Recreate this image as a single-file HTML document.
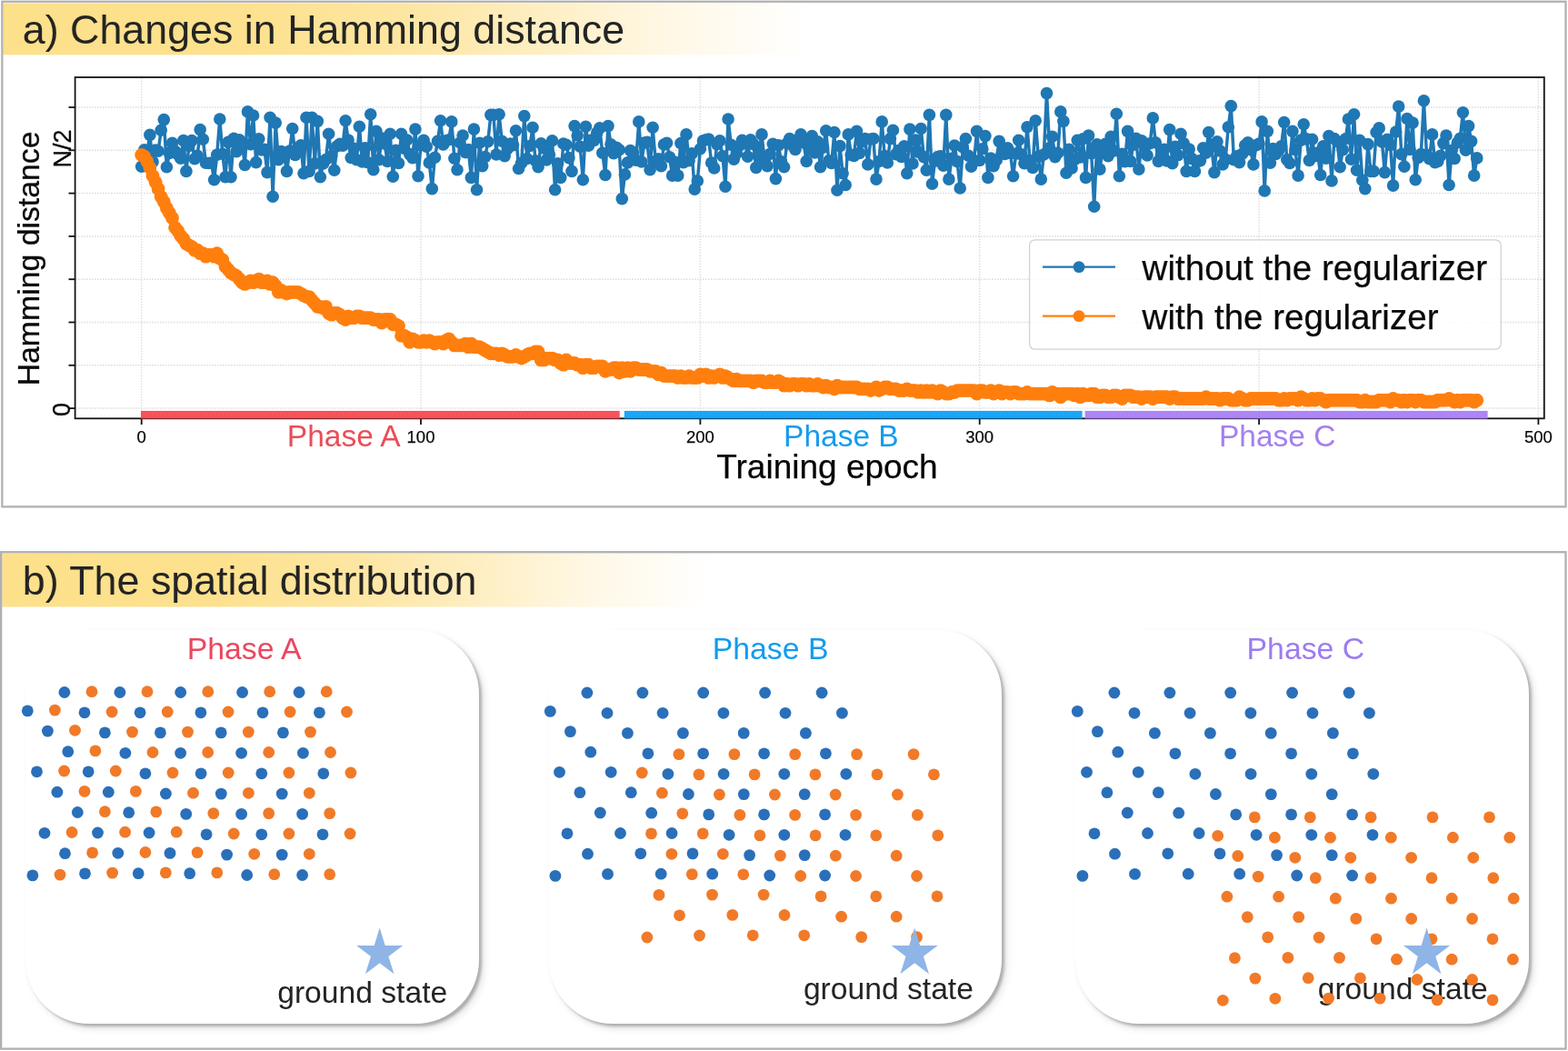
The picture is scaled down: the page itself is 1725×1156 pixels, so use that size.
<!DOCTYPE html>
<html lang="en"><head><meta charset="utf-8"><title>Hamming distance and spatial distribution</title>
<style>
html,body{margin:0;padding:0;background:#fff;}
body{width:1725px;height:1156px;position:relative;overflow:hidden;font-family:"Liberation Sans", Arial, Helvetica, sans-serif;}
.panel{position:absolute;box-sizing:border-box;background:#fff;}
#pa{left:1px;top:1px;width:1723px;height:558px;}
#pb{left:1px;top:606px;width:1723px;height:549px;}
.hdr{position:absolute;left:3.4px;height:57px;width:850px;
  font-size:44.8px;line-height:57px;color:#242424;white-space:nowrap;}
.hdr span{position:absolute;left:21.4px;top:0;}
#ha{top:3.5px;}
#hb{top:608.4px;height:59px;line-height:61px;width:735px;}
.card{position:absolute;top:692.8px;height:433.2px;width:498.8px;border-radius:70px;background:#fff;
  box-shadow:3px 3px 3px rgba(0,0,0,0.24), 5px 5px 8px rgba(0,0,0,0.12);}
</style></head>
<body>
<div class="panel" id="pa"></div>
<div class="panel" id="pb"></div>
<svg width="1725" height="1156" viewBox="0 0 1725 1156" style="position:absolute;left:0;top:0"><defs><linearGradient id="hg" x1="0" y1="0" x2="1" y2="0"><stop offset="0" stop-color="#fde08a"/><stop offset="0.30" stop-color="#fde18e"/><stop offset="0.50" stop-color="#fde6a2"/><stop offset="0.68" stop-color="#feefc4"/><stop offset="0.83" stop-color="#fff8e6"/><stop offset="1" stop-color="#ffffff"/></linearGradient></defs><rect x="3.4" y="3.5" width="885" height="56.8" fill="url(#hg)"/><rect x="2.3" y="608.4" width="780" height="59.1" fill="url(#hg)"/><g fill="none" stroke="#b1b1b1" stroke-width="2.3"><rect x="2.35" y="1.75" width="1720.15" height="555.6"/><rect x="1.15" y="607.25" width="1721.35" height="546.35" stroke="#b0b0b3"/></g></svg>
<div class="hdr" id="ha"><span>a) Changes in Hamming distance</span></div>
<div class="hdr" id="hb"><span>b) The spatial distribution</span></div>
<div class="card" style="left:28.3px"></div>
<div class="card" style="left:603.6px"></div>
<div class="card" style="left:1183.3px"></div>
<svg width="1725" height="1156" viewBox="0 0 1725 1156" style="position:absolute;left:0;top:0" font-family='"Liberation Sans", Arial, Helvetica, sans-serif'><g stroke="#dedede" stroke-width="1.5" stroke-dasharray="1.6 1.4" fill="none"><line x1="83" y1="118.0" x2="1698.5" y2="118.0"/><line x1="83" y1="165.3" x2="1698.5" y2="165.3"/><line x1="83" y1="212.6" x2="1698.5" y2="212.6"/><line x1="83" y1="259.9" x2="1698.5" y2="259.9"/><line x1="83" y1="307.2" x2="1698.5" y2="307.2"/><line x1="83" y1="354.5" x2="1698.5" y2="354.5"/><line x1="83" y1="401.8" x2="1698.5" y2="401.8"/><line x1="83" y1="449.1" x2="1698.5" y2="449.1"/><line x1="155.7" y1="85.5" x2="155.7" y2="460"/><line x1="463.0" y1="85.5" x2="463.0" y2="460"/><line x1="770.4" y1="85.5" x2="770.4" y2="460"/><line x1="1077.7" y1="85.5" x2="1077.7" y2="460"/><line x1="1385.1" y1="85.5" x2="1385.1" y2="460"/><line x1="1692.4" y1="85.5" x2="1692.4" y2="460"/></g><polyline points="155.7,183.2 158.8,164.7 161.8,167.7 164.9,148.4 168.0,177.9 171.1,165.0 174.1,166.2 177.2,143.2 180.3,131.6 183.4,183.8 186.4,168.4 189.5,157.2 192.6,166.3 195.7,169.6 198.7,174.2 201.8,154.6 204.9,188.4 207.9,160.5 211.0,154.5 214.1,174.7 217.2,171.4 220.2,142.6 223.3,153.2 226.4,179.2 229.5,179.5 232.5,179.0 235.6,197.7 238.7,170.3 241.8,131.0 244.8,169.2 247.9,194.8 251.0,156.4 254.0,194.8 257.1,152.4 260.2,166.8 263.3,153.7 266.3,157.3 269.4,181.5 272.5,122.9 275.6,158.8 278.6,127.0 281.7,178.6 284.8,152.8 287.9,165.0 290.9,164.3 294.0,189.6 297.1,129.3 300.1,216.3 303.2,135.1 306.3,175.6 309.4,166.5 312.4,169.9 315.5,188.4 318.6,166.0 321.7,141.5 324.7,170.5 327.8,164.8 330.9,159.8 334.0,190.8 337.0,129.3 340.1,188.4 343.2,129.3 346.3,179.9 349.3,133.4 352.4,194.8 355.5,179.9 358.5,175.5 361.6,147.3 364.7,171.8 367.8,187.3 370.8,160.8 373.9,158.4 377.0,160.1 380.1,132.8 383.1,154.0 386.2,173.5 389.3,163.2 392.4,175.7 395.4,139.2 398.5,178.0 401.6,162.8 404.6,178.8 407.7,125.8 410.8,186.7 413.9,144.4 416.9,175.7 420.0,152.0 423.1,157.9 426.2,177.5 429.2,147.3 432.3,194.2 435.4,165.2 438.5,179.5 441.5,147.3 444.6,163.1 447.7,154.0 450.7,169.6 453.8,173.8 456.9,142.1 460.0,193.7 463.0,159.6 466.1,154.4 469.2,161.3 472.3,179.0 475.3,207.6 478.4,173.2 481.5,155.3 484.6,132.8 487.6,158.9 490.7,154.8 493.8,153.7 496.8,133.9 499.9,174.3 503.0,186.7 506.1,157.0 509.1,149.0 512.2,167.7 515.3,164.5 518.4,195.4 521.4,142.1 524.5,208.7 527.6,157.3 530.7,182.6 533.7,172.5 536.8,155.7 539.9,126.4 542.9,126.4 546.0,170.0 549.1,125.8 552.2,155.3 555.2,171.6 558.3,163.8 561.4,158.0 564.5,159.6 567.5,143.8 570.6,185.5 573.7,179.2 576.8,127.6 579.8,174.5 582.9,160.5 586.0,140.3 589.0,176.8 592.1,183.8 595.2,157.9 598.3,163.0 601.3,175.9 604.4,170.0 607.5,154.8 610.6,208.7 613.6,179.7 616.7,195.4 619.8,158.0 622.9,159.2 625.9,173.6 629.0,188.4 632.1,138.6 635.2,149.0 638.2,161.2 641.3,197.7 644.4,139.2 647.4,160.3 650.5,154.1 653.6,154.5 656.7,146.1 659.7,140.9 662.8,168.3 665.9,192.5 669.0,138.6 672.0,158.8 675.1,168.8 678.2,162.4 681.3,164.7 684.3,218.6 687.4,191.9 690.5,178.9 693.5,165.5 696.6,168.1 699.7,176.3 702.8,133.9 705.8,178.0 708.9,157.1 712.0,156.3 715.1,186.7 718.1,140.3 721.2,177.4 724.3,174.9 727.4,182.6 730.4,159.0 733.5,157.3 736.6,172.7 739.6,193.1 742.7,178.3 745.8,193.1 748.9,157.5 751.9,178.6 755.0,147.9 758.1,176.7 761.2,168.9 764.2,208.1 767.3,198.9 770.4,163.8 773.5,154.9 776.5,153.7 779.6,153.1 782.7,179.0 785.7,185.0 788.8,158.7 791.9,154.8 795.0,171.7 798.0,205.2 801.1,131.0 804.2,159.2 807.3,175.1 810.3,168.7 813.4,160.2 816.5,154.2 819.6,156.9 822.6,172.2 825.7,153.9 828.8,158.4 831.8,184.4 834.9,167.7 838.0,147.9 841.1,175.9 844.1,182.6 847.2,169.2 850.3,158.3 853.4,196.6 856.4,159.8 859.5,177.7 862.6,183.8 865.7,157.7 868.7,152.5 871.8,159.5 874.9,164.5 877.9,153.7 881.0,147.9 884.1,156.9 887.2,177.4 890.2,162.3 893.3,149.6 896.4,168.0 899.5,155.7 902.5,183.8 905.6,162.1 908.7,143.8 911.8,176.9 914.8,179.5 917.9,145.5 921.0,209.3 924.0,160.6 927.1,190.8 930.2,203.5 933.3,147.9 936.3,170.4 939.4,171.4 942.5,144.4 945.6,168.4 948.6,155.9 951.7,152.5 954.8,180.9 957.9,153.0 960.9,152.5 964.0,197.1 967.1,177.5 970.2,133.9 973.2,171.6 976.3,179.0 979.4,152.6 982.4,143.2 985.5,169.8 988.6,165.5 991.7,172.5 994.7,160.9 997.8,190.8 1000.9,142.1 1004.0,180.0 1007.0,154.1 1010.1,167.3 1013.2,141.5 1016.3,172.6 1019.3,187.3 1022.4,126.4 1025.5,202.3 1028.5,177.2 1031.6,172.6 1034.7,171.7 1037.8,182.1 1040.8,126.4 1043.9,197.1 1047.0,174.2 1050.1,160.0 1053.1,177.6 1056.2,207.0 1059.3,161.9 1062.4,152.5 1065.4,171.2 1068.5,183.2 1071.6,177.2 1074.6,144.4 1077.7,176.4 1080.8,163.7 1083.9,149.6 1086.9,195.4 1090.0,174.1 1093.1,182.6 1096.2,176.2 1099.2,155.4 1102.3,168.0 1105.4,169.5 1108.5,162.7 1111.5,168.3 1114.6,193.7 1117.7,169.0 1120.7,154.2 1123.8,169.9 1126.9,179.8 1130.0,139.7 1133.0,176.6 1136.1,184.4 1139.2,132.8 1142.3,172.4 1145.3,197.1 1148.4,169.9 1151.5,102.6 1154.6,162.9 1157.6,150.2 1160.7,172.6 1163.8,168.3 1166.8,122.9 1169.9,133.4 1173.0,190.2 1176.1,164.3 1179.1,185.0 1182.2,175.5 1185.3,154.3 1188.4,173.0 1191.4,152.8 1194.5,195.4 1197.6,149.0 1200.7,168.8 1203.7,227.3 1206.8,158.9 1209.9,186.1 1212.9,165.5 1216.0,158.4 1219.1,171.6 1222.2,150.2 1225.2,165.9 1228.3,125.2 1231.4,193.7 1234.5,169.2 1237.5,177.8 1240.6,144.4 1243.7,177.4 1246.8,159.2 1249.8,152.3 1252.9,186.1 1256.0,154.8 1259.1,160.4 1262.1,171.0 1265.2,157.7 1268.3,129.9 1271.3,156.7 1274.4,177.4 1277.5,170.5 1280.6,164.4 1283.6,177.0 1286.7,142.6 1289.8,179.7 1292.9,161.2 1295.9,170.6 1299.0,147.3 1302.1,157.6 1305.2,188.4 1308.2,164.1 1311.3,174.6 1314.4,188.4 1317.4,177.6 1320.5,176.6 1323.6,162.8 1326.7,168.3 1329.7,145.5 1332.8,160.9 1335.9,189.6 1339.0,155.8 1342.0,165.9 1345.1,180.9 1348.2,175.4 1351.3,139.7 1354.3,116.6 1357.4,175.8 1360.5,171.9 1363.5,178.6 1366.6,169.3 1369.7,159.8 1372.8,156.7 1375.8,164.6 1378.9,180.9 1382.0,159.7 1385.1,158.0 1388.1,133.9 1391.2,209.9 1394.3,144.4 1397.4,179.2 1400.4,163.6 1403.5,169.5 1406.6,165.8 1409.6,160.8 1412.7,134.5 1415.8,175.5 1418.9,179.5 1421.9,144.4 1425.0,164.7 1428.1,193.1 1431.2,154.1 1434.2,136.8 1437.3,152.9 1440.4,176.4 1443.5,153.2 1446.5,171.8 1449.6,168.0 1452.7,192.5 1455.7,160.7 1458.8,174.2 1461.9,149.6 1465.0,198.9 1468.0,152.5 1471.1,155.8 1474.2,183.8 1477.3,164.7 1480.3,152.7 1483.4,131.0 1486.5,175.2 1489.6,125.8 1492.6,187.3 1495.7,154.2 1498.8,198.3 1501.8,207.6 1504.9,158.6 1508.0,188.4 1511.1,188.4 1514.1,145.5 1517.2,140.9 1520.3,155.9 1523.4,189.6 1526.4,153.3 1529.5,159.4 1532.6,204.1 1535.7,145.0 1538.7,117.1 1541.8,169.6 1544.9,183.2 1548.0,130.5 1551.0,164.5 1554.1,135.1 1557.2,197.7 1560.2,173.4 1563.3,169.6 1566.4,110.8 1569.5,170.3 1572.5,174.6 1575.6,147.9 1578.7,178.8 1581.8,177.4 1584.8,171.2 1587.9,157.6 1591.0,149.0 1594.1,203.5 1597.1,165.3 1600.2,174.5 1603.3,157.0 1606.3,152.3 1609.4,123.7 1612.5,165.2 1615.6,138.6 1618.6,155.4 1621.7,193.1 1624.8,173.9" fill="none" stroke="#1f77b4" stroke-width="3.5" stroke-linejoin="round"/><g fill="#1f77b4"><circle cx="155.7" cy="183.2" r="6.8"/><circle cx="158.8" cy="164.7" r="6.8"/><circle cx="161.8" cy="167.7" r="6.8"/><circle cx="164.9" cy="148.4" r="6.8"/><circle cx="168.0" cy="177.9" r="6.8"/><circle cx="171.1" cy="165.0" r="6.8"/><circle cx="174.1" cy="166.2" r="6.8"/><circle cx="177.2" cy="143.2" r="6.8"/><circle cx="180.3" cy="131.6" r="6.8"/><circle cx="183.4" cy="183.8" r="6.8"/><circle cx="186.4" cy="168.4" r="6.8"/><circle cx="189.5" cy="157.2" r="6.8"/><circle cx="192.6" cy="166.3" r="6.8"/><circle cx="195.7" cy="169.6" r="6.8"/><circle cx="198.7" cy="174.2" r="6.8"/><circle cx="201.8" cy="154.6" r="6.8"/><circle cx="204.9" cy="188.4" r="6.8"/><circle cx="207.9" cy="160.5" r="6.8"/><circle cx="211.0" cy="154.5" r="6.8"/><circle cx="214.1" cy="174.7" r="6.8"/><circle cx="217.2" cy="171.4" r="6.8"/><circle cx="220.2" cy="142.6" r="6.8"/><circle cx="223.3" cy="153.2" r="6.8"/><circle cx="226.4" cy="179.2" r="6.8"/><circle cx="229.5" cy="179.5" r="6.8"/><circle cx="232.5" cy="179.0" r="6.8"/><circle cx="235.6" cy="197.7" r="6.8"/><circle cx="238.7" cy="170.3" r="6.8"/><circle cx="241.8" cy="131.0" r="6.8"/><circle cx="244.8" cy="169.2" r="6.8"/><circle cx="247.9" cy="194.8" r="6.8"/><circle cx="251.0" cy="156.4" r="6.8"/><circle cx="254.0" cy="194.8" r="6.8"/><circle cx="257.1" cy="152.4" r="6.8"/><circle cx="260.2" cy="166.8" r="6.8"/><circle cx="263.3" cy="153.7" r="6.8"/><circle cx="266.3" cy="157.3" r="6.8"/><circle cx="269.4" cy="181.5" r="6.8"/><circle cx="272.5" cy="122.9" r="6.8"/><circle cx="275.6" cy="158.8" r="6.8"/><circle cx="278.6" cy="127.0" r="6.8"/><circle cx="281.7" cy="178.6" r="6.8"/><circle cx="284.8" cy="152.8" r="6.8"/><circle cx="287.9" cy="165.0" r="6.8"/><circle cx="290.9" cy="164.3" r="6.8"/><circle cx="294.0" cy="189.6" r="6.8"/><circle cx="297.1" cy="129.3" r="6.8"/><circle cx="300.1" cy="216.3" r="6.8"/><circle cx="303.2" cy="135.1" r="6.8"/><circle cx="306.3" cy="175.6" r="6.8"/><circle cx="309.4" cy="166.5" r="6.8"/><circle cx="312.4" cy="169.9" r="6.8"/><circle cx="315.5" cy="188.4" r="6.8"/><circle cx="318.6" cy="166.0" r="6.8"/><circle cx="321.7" cy="141.5" r="6.8"/><circle cx="324.7" cy="170.5" r="6.8"/><circle cx="327.8" cy="164.8" r="6.8"/><circle cx="330.9" cy="159.8" r="6.8"/><circle cx="334.0" cy="190.8" r="6.8"/><circle cx="337.0" cy="129.3" r="6.8"/><circle cx="340.1" cy="188.4" r="6.8"/><circle cx="343.2" cy="129.3" r="6.8"/><circle cx="346.3" cy="179.9" r="6.8"/><circle cx="349.3" cy="133.4" r="6.8"/><circle cx="352.4" cy="194.8" r="6.8"/><circle cx="355.5" cy="179.9" r="6.8"/><circle cx="358.5" cy="175.5" r="6.8"/><circle cx="361.6" cy="147.3" r="6.8"/><circle cx="364.7" cy="171.8" r="6.8"/><circle cx="367.8" cy="187.3" r="6.8"/><circle cx="370.8" cy="160.8" r="6.8"/><circle cx="373.9" cy="158.4" r="6.8"/><circle cx="377.0" cy="160.1" r="6.8"/><circle cx="380.1" cy="132.8" r="6.8"/><circle cx="383.1" cy="154.0" r="6.8"/><circle cx="386.2" cy="173.5" r="6.8"/><circle cx="389.3" cy="163.2" r="6.8"/><circle cx="392.4" cy="175.7" r="6.8"/><circle cx="395.4" cy="139.2" r="6.8"/><circle cx="398.5" cy="178.0" r="6.8"/><circle cx="401.6" cy="162.8" r="6.8"/><circle cx="404.6" cy="178.8" r="6.8"/><circle cx="407.7" cy="125.8" r="6.8"/><circle cx="410.8" cy="186.7" r="6.8"/><circle cx="413.9" cy="144.4" r="6.8"/><circle cx="416.9" cy="175.7" r="6.8"/><circle cx="420.0" cy="152.0" r="6.8"/><circle cx="423.1" cy="157.9" r="6.8"/><circle cx="426.2" cy="177.5" r="6.8"/><circle cx="429.2" cy="147.3" r="6.8"/><circle cx="432.3" cy="194.2" r="6.8"/><circle cx="435.4" cy="165.2" r="6.8"/><circle cx="438.5" cy="179.5" r="6.8"/><circle cx="441.5" cy="147.3" r="6.8"/><circle cx="444.6" cy="163.1" r="6.8"/><circle cx="447.7" cy="154.0" r="6.8"/><circle cx="450.7" cy="169.6" r="6.8"/><circle cx="453.8" cy="173.8" r="6.8"/><circle cx="456.9" cy="142.1" r="6.8"/><circle cx="460.0" cy="193.7" r="6.8"/><circle cx="463.0" cy="159.6" r="6.8"/><circle cx="466.1" cy="154.4" r="6.8"/><circle cx="469.2" cy="161.3" r="6.8"/><circle cx="472.3" cy="179.0" r="6.8"/><circle cx="475.3" cy="207.6" r="6.8"/><circle cx="478.4" cy="173.2" r="6.8"/><circle cx="481.5" cy="155.3" r="6.8"/><circle cx="484.6" cy="132.8" r="6.8"/><circle cx="487.6" cy="158.9" r="6.8"/><circle cx="490.7" cy="154.8" r="6.8"/><circle cx="493.8" cy="153.7" r="6.8"/><circle cx="496.8" cy="133.9" r="6.8"/><circle cx="499.9" cy="174.3" r="6.8"/><circle cx="503.0" cy="186.7" r="6.8"/><circle cx="506.1" cy="157.0" r="6.8"/><circle cx="509.1" cy="149.0" r="6.8"/><circle cx="512.2" cy="167.7" r="6.8"/><circle cx="515.3" cy="164.5" r="6.8"/><circle cx="518.4" cy="195.4" r="6.8"/><circle cx="521.4" cy="142.1" r="6.8"/><circle cx="524.5" cy="208.7" r="6.8"/><circle cx="527.6" cy="157.3" r="6.8"/><circle cx="530.7" cy="182.6" r="6.8"/><circle cx="533.7" cy="172.5" r="6.8"/><circle cx="536.8" cy="155.7" r="6.8"/><circle cx="539.9" cy="126.4" r="6.8"/><circle cx="542.9" cy="126.4" r="6.8"/><circle cx="546.0" cy="170.0" r="6.8"/><circle cx="549.1" cy="125.8" r="6.8"/><circle cx="552.2" cy="155.3" r="6.8"/><circle cx="555.2" cy="171.6" r="6.8"/><circle cx="558.3" cy="163.8" r="6.8"/><circle cx="561.4" cy="158.0" r="6.8"/><circle cx="564.5" cy="159.6" r="6.8"/><circle cx="567.5" cy="143.8" r="6.8"/><circle cx="570.6" cy="185.5" r="6.8"/><circle cx="573.7" cy="179.2" r="6.8"/><circle cx="576.8" cy="127.6" r="6.8"/><circle cx="579.8" cy="174.5" r="6.8"/><circle cx="582.9" cy="160.5" r="6.8"/><circle cx="586.0" cy="140.3" r="6.8"/><circle cx="589.0" cy="176.8" r="6.8"/><circle cx="592.1" cy="183.8" r="6.8"/><circle cx="595.2" cy="157.9" r="6.8"/><circle cx="598.3" cy="163.0" r="6.8"/><circle cx="601.3" cy="175.9" r="6.8"/><circle cx="604.4" cy="170.0" r="6.8"/><circle cx="607.5" cy="154.8" r="6.8"/><circle cx="610.6" cy="208.7" r="6.8"/><circle cx="613.6" cy="179.7" r="6.8"/><circle cx="616.7" cy="195.4" r="6.8"/><circle cx="619.8" cy="158.0" r="6.8"/><circle cx="622.9" cy="159.2" r="6.8"/><circle cx="625.9" cy="173.6" r="6.8"/><circle cx="629.0" cy="188.4" r="6.8"/><circle cx="632.1" cy="138.6" r="6.8"/><circle cx="635.2" cy="149.0" r="6.8"/><circle cx="638.2" cy="161.2" r="6.8"/><circle cx="641.3" cy="197.7" r="6.8"/><circle cx="644.4" cy="139.2" r="6.8"/><circle cx="647.4" cy="160.3" r="6.8"/><circle cx="650.5" cy="154.1" r="6.8"/><circle cx="653.6" cy="154.5" r="6.8"/><circle cx="656.7" cy="146.1" r="6.8"/><circle cx="659.7" cy="140.9" r="6.8"/><circle cx="662.8" cy="168.3" r="6.8"/><circle cx="665.9" cy="192.5" r="6.8"/><circle cx="669.0" cy="138.6" r="6.8"/><circle cx="672.0" cy="158.8" r="6.8"/><circle cx="675.1" cy="168.8" r="6.8"/><circle cx="678.2" cy="162.4" r="6.8"/><circle cx="681.3" cy="164.7" r="6.8"/><circle cx="684.3" cy="218.6" r="6.8"/><circle cx="687.4" cy="191.9" r="6.8"/><circle cx="690.5" cy="178.9" r="6.8"/><circle cx="693.5" cy="165.5" r="6.8"/><circle cx="696.6" cy="168.1" r="6.8"/><circle cx="699.7" cy="176.3" r="6.8"/><circle cx="702.8" cy="133.9" r="6.8"/><circle cx="705.8" cy="178.0" r="6.8"/><circle cx="708.9" cy="157.1" r="6.8"/><circle cx="712.0" cy="156.3" r="6.8"/><circle cx="715.1" cy="186.7" r="6.8"/><circle cx="718.1" cy="140.3" r="6.8"/><circle cx="721.2" cy="177.4" r="6.8"/><circle cx="724.3" cy="174.9" r="6.8"/><circle cx="727.4" cy="182.6" r="6.8"/><circle cx="730.4" cy="159.0" r="6.8"/><circle cx="733.5" cy="157.3" r="6.8"/><circle cx="736.6" cy="172.7" r="6.8"/><circle cx="739.6" cy="193.1" r="6.8"/><circle cx="742.7" cy="178.3" r="6.8"/><circle cx="745.8" cy="193.1" r="6.8"/><circle cx="748.9" cy="157.5" r="6.8"/><circle cx="751.9" cy="178.6" r="6.8"/><circle cx="755.0" cy="147.9" r="6.8"/><circle cx="758.1" cy="176.7" r="6.8"/><circle cx="761.2" cy="168.9" r="6.8"/><circle cx="764.2" cy="208.1" r="6.8"/><circle cx="767.3" cy="198.9" r="6.8"/><circle cx="770.4" cy="163.8" r="6.8"/><circle cx="773.5" cy="154.9" r="6.8"/><circle cx="776.5" cy="153.7" r="6.8"/><circle cx="779.6" cy="153.1" r="6.8"/><circle cx="782.7" cy="179.0" r="6.8"/><circle cx="785.7" cy="185.0" r="6.8"/><circle cx="788.8" cy="158.7" r="6.8"/><circle cx="791.9" cy="154.8" r="6.8"/><circle cx="795.0" cy="171.7" r="6.8"/><circle cx="798.0" cy="205.2" r="6.8"/><circle cx="801.1" cy="131.0" r="6.8"/><circle cx="804.2" cy="159.2" r="6.8"/><circle cx="807.3" cy="175.1" r="6.8"/><circle cx="810.3" cy="168.7" r="6.8"/><circle cx="813.4" cy="160.2" r="6.8"/><circle cx="816.5" cy="154.2" r="6.8"/><circle cx="819.6" cy="156.9" r="6.8"/><circle cx="822.6" cy="172.2" r="6.8"/><circle cx="825.7" cy="153.9" r="6.8"/><circle cx="828.8" cy="158.4" r="6.8"/><circle cx="831.8" cy="184.4" r="6.8"/><circle cx="834.9" cy="167.7" r="6.8"/><circle cx="838.0" cy="147.9" r="6.8"/><circle cx="841.1" cy="175.9" r="6.8"/><circle cx="844.1" cy="182.6" r="6.8"/><circle cx="847.2" cy="169.2" r="6.8"/><circle cx="850.3" cy="158.3" r="6.8"/><circle cx="853.4" cy="196.6" r="6.8"/><circle cx="856.4" cy="159.8" r="6.8"/><circle cx="859.5" cy="177.7" r="6.8"/><circle cx="862.6" cy="183.8" r="6.8"/><circle cx="865.7" cy="157.7" r="6.8"/><circle cx="868.7" cy="152.5" r="6.8"/><circle cx="871.8" cy="159.5" r="6.8"/><circle cx="874.9" cy="164.5" r="6.8"/><circle cx="877.9" cy="153.7" r="6.8"/><circle cx="881.0" cy="147.9" r="6.8"/><circle cx="884.1" cy="156.9" r="6.8"/><circle cx="887.2" cy="177.4" r="6.8"/><circle cx="890.2" cy="162.3" r="6.8"/><circle cx="893.3" cy="149.6" r="6.8"/><circle cx="896.4" cy="168.0" r="6.8"/><circle cx="899.5" cy="155.7" r="6.8"/><circle cx="902.5" cy="183.8" r="6.8"/><circle cx="905.6" cy="162.1" r="6.8"/><circle cx="908.7" cy="143.8" r="6.8"/><circle cx="911.8" cy="176.9" r="6.8"/><circle cx="914.8" cy="179.5" r="6.8"/><circle cx="917.9" cy="145.5" r="6.8"/><circle cx="921.0" cy="209.3" r="6.8"/><circle cx="924.0" cy="160.6" r="6.8"/><circle cx="927.1" cy="190.8" r="6.8"/><circle cx="930.2" cy="203.5" r="6.8"/><circle cx="933.3" cy="147.9" r="6.8"/><circle cx="936.3" cy="170.4" r="6.8"/><circle cx="939.4" cy="171.4" r="6.8"/><circle cx="942.5" cy="144.4" r="6.8"/><circle cx="945.6" cy="168.4" r="6.8"/><circle cx="948.6" cy="155.9" r="6.8"/><circle cx="951.7" cy="152.5" r="6.8"/><circle cx="954.8" cy="180.9" r="6.8"/><circle cx="957.9" cy="153.0" r="6.8"/><circle cx="960.9" cy="152.5" r="6.8"/><circle cx="964.0" cy="197.1" r="6.8"/><circle cx="967.1" cy="177.5" r="6.8"/><circle cx="970.2" cy="133.9" r="6.8"/><circle cx="973.2" cy="171.6" r="6.8"/><circle cx="976.3" cy="179.0" r="6.8"/><circle cx="979.4" cy="152.6" r="6.8"/><circle cx="982.4" cy="143.2" r="6.8"/><circle cx="985.5" cy="169.8" r="6.8"/><circle cx="988.6" cy="165.5" r="6.8"/><circle cx="991.7" cy="172.5" r="6.8"/><circle cx="994.7" cy="160.9" r="6.8"/><circle cx="997.8" cy="190.8" r="6.8"/><circle cx="1000.9" cy="142.1" r="6.8"/><circle cx="1004.0" cy="180.0" r="6.8"/><circle cx="1007.0" cy="154.1" r="6.8"/><circle cx="1010.1" cy="167.3" r="6.8"/><circle cx="1013.2" cy="141.5" r="6.8"/><circle cx="1016.3" cy="172.6" r="6.8"/><circle cx="1019.3" cy="187.3" r="6.8"/><circle cx="1022.4" cy="126.4" r="6.8"/><circle cx="1025.5" cy="202.3" r="6.8"/><circle cx="1028.5" cy="177.2" r="6.8"/><circle cx="1031.6" cy="172.6" r="6.8"/><circle cx="1034.7" cy="171.7" r="6.8"/><circle cx="1037.8" cy="182.1" r="6.8"/><circle cx="1040.8" cy="126.4" r="6.8"/><circle cx="1043.9" cy="197.1" r="6.8"/><circle cx="1047.0" cy="174.2" r="6.8"/><circle cx="1050.1" cy="160.0" r="6.8"/><circle cx="1053.1" cy="177.6" r="6.8"/><circle cx="1056.2" cy="207.0" r="6.8"/><circle cx="1059.3" cy="161.9" r="6.8"/><circle cx="1062.4" cy="152.5" r="6.8"/><circle cx="1065.4" cy="171.2" r="6.8"/><circle cx="1068.5" cy="183.2" r="6.8"/><circle cx="1071.6" cy="177.2" r="6.8"/><circle cx="1074.6" cy="144.4" r="6.8"/><circle cx="1077.7" cy="176.4" r="6.8"/><circle cx="1080.8" cy="163.7" r="6.8"/><circle cx="1083.9" cy="149.6" r="6.8"/><circle cx="1086.9" cy="195.4" r="6.8"/><circle cx="1090.0" cy="174.1" r="6.8"/><circle cx="1093.1" cy="182.6" r="6.8"/><circle cx="1096.2" cy="176.2" r="6.8"/><circle cx="1099.2" cy="155.4" r="6.8"/><circle cx="1102.3" cy="168.0" r="6.8"/><circle cx="1105.4" cy="169.5" r="6.8"/><circle cx="1108.5" cy="162.7" r="6.8"/><circle cx="1111.5" cy="168.3" r="6.8"/><circle cx="1114.6" cy="193.7" r="6.8"/><circle cx="1117.7" cy="169.0" r="6.8"/><circle cx="1120.7" cy="154.2" r="6.8"/><circle cx="1123.8" cy="169.9" r="6.8"/><circle cx="1126.9" cy="179.8" r="6.8"/><circle cx="1130.0" cy="139.7" r="6.8"/><circle cx="1133.0" cy="176.6" r="6.8"/><circle cx="1136.1" cy="184.4" r="6.8"/><circle cx="1139.2" cy="132.8" r="6.8"/><circle cx="1142.3" cy="172.4" r="6.8"/><circle cx="1145.3" cy="197.1" r="6.8"/><circle cx="1148.4" cy="169.9" r="6.8"/><circle cx="1151.5" cy="102.6" r="6.8"/><circle cx="1154.6" cy="162.9" r="6.8"/><circle cx="1157.6" cy="150.2" r="6.8"/><circle cx="1160.7" cy="172.6" r="6.8"/><circle cx="1163.8" cy="168.3" r="6.8"/><circle cx="1166.8" cy="122.9" r="6.8"/><circle cx="1169.9" cy="133.4" r="6.8"/><circle cx="1173.0" cy="190.2" r="6.8"/><circle cx="1176.1" cy="164.3" r="6.8"/><circle cx="1179.1" cy="185.0" r="6.8"/><circle cx="1182.2" cy="175.5" r="6.8"/><circle cx="1185.3" cy="154.3" r="6.8"/><circle cx="1188.4" cy="173.0" r="6.8"/><circle cx="1191.4" cy="152.8" r="6.8"/><circle cx="1194.5" cy="195.4" r="6.8"/><circle cx="1197.6" cy="149.0" r="6.8"/><circle cx="1200.7" cy="168.8" r="6.8"/><circle cx="1203.7" cy="227.3" r="6.8"/><circle cx="1206.8" cy="158.9" r="6.8"/><circle cx="1209.9" cy="186.1" r="6.8"/><circle cx="1212.9" cy="165.5" r="6.8"/><circle cx="1216.0" cy="158.4" r="6.8"/><circle cx="1219.1" cy="171.6" r="6.8"/><circle cx="1222.2" cy="150.2" r="6.8"/><circle cx="1225.2" cy="165.9" r="6.8"/><circle cx="1228.3" cy="125.2" r="6.8"/><circle cx="1231.4" cy="193.7" r="6.8"/><circle cx="1234.5" cy="169.2" r="6.8"/><circle cx="1237.5" cy="177.8" r="6.8"/><circle cx="1240.6" cy="144.4" r="6.8"/><circle cx="1243.7" cy="177.4" r="6.8"/><circle cx="1246.8" cy="159.2" r="6.8"/><circle cx="1249.8" cy="152.3" r="6.8"/><circle cx="1252.9" cy="186.1" r="6.8"/><circle cx="1256.0" cy="154.8" r="6.8"/><circle cx="1259.1" cy="160.4" r="6.8"/><circle cx="1262.1" cy="171.0" r="6.8"/><circle cx="1265.2" cy="157.7" r="6.8"/><circle cx="1268.3" cy="129.9" r="6.8"/><circle cx="1271.3" cy="156.7" r="6.8"/><circle cx="1274.4" cy="177.4" r="6.8"/><circle cx="1277.5" cy="170.5" r="6.8"/><circle cx="1280.6" cy="164.4" r="6.8"/><circle cx="1283.6" cy="177.0" r="6.8"/><circle cx="1286.7" cy="142.6" r="6.8"/><circle cx="1289.8" cy="179.7" r="6.8"/><circle cx="1292.9" cy="161.2" r="6.8"/><circle cx="1295.9" cy="170.6" r="6.8"/><circle cx="1299.0" cy="147.3" r="6.8"/><circle cx="1302.1" cy="157.6" r="6.8"/><circle cx="1305.2" cy="188.4" r="6.8"/><circle cx="1308.2" cy="164.1" r="6.8"/><circle cx="1311.3" cy="174.6" r="6.8"/><circle cx="1314.4" cy="188.4" r="6.8"/><circle cx="1317.4" cy="177.6" r="6.8"/><circle cx="1320.5" cy="176.6" r="6.8"/><circle cx="1323.6" cy="162.8" r="6.8"/><circle cx="1326.7" cy="168.3" r="6.8"/><circle cx="1329.7" cy="145.5" r="6.8"/><circle cx="1332.8" cy="160.9" r="6.8"/><circle cx="1335.9" cy="189.6" r="6.8"/><circle cx="1339.0" cy="155.8" r="6.8"/><circle cx="1342.0" cy="165.9" r="6.8"/><circle cx="1345.1" cy="180.9" r="6.8"/><circle cx="1348.2" cy="175.4" r="6.8"/><circle cx="1351.3" cy="139.7" r="6.8"/><circle cx="1354.3" cy="116.6" r="6.8"/><circle cx="1357.4" cy="175.8" r="6.8"/><circle cx="1360.5" cy="171.9" r="6.8"/><circle cx="1363.5" cy="178.6" r="6.8"/><circle cx="1366.6" cy="169.3" r="6.8"/><circle cx="1369.7" cy="159.8" r="6.8"/><circle cx="1372.8" cy="156.7" r="6.8"/><circle cx="1375.8" cy="164.6" r="6.8"/><circle cx="1378.9" cy="180.9" r="6.8"/><circle cx="1382.0" cy="159.7" r="6.8"/><circle cx="1385.1" cy="158.0" r="6.8"/><circle cx="1388.1" cy="133.9" r="6.8"/><circle cx="1391.2" cy="209.9" r="6.8"/><circle cx="1394.3" cy="144.4" r="6.8"/><circle cx="1397.4" cy="179.2" r="6.8"/><circle cx="1400.4" cy="163.6" r="6.8"/><circle cx="1403.5" cy="169.5" r="6.8"/><circle cx="1406.6" cy="165.8" r="6.8"/><circle cx="1409.6" cy="160.8" r="6.8"/><circle cx="1412.7" cy="134.5" r="6.8"/><circle cx="1415.8" cy="175.5" r="6.8"/><circle cx="1418.9" cy="179.5" r="6.8"/><circle cx="1421.9" cy="144.4" r="6.8"/><circle cx="1425.0" cy="164.7" r="6.8"/><circle cx="1428.1" cy="193.1" r="6.8"/><circle cx="1431.2" cy="154.1" r="6.8"/><circle cx="1434.2" cy="136.8" r="6.8"/><circle cx="1437.3" cy="152.9" r="6.8"/><circle cx="1440.4" cy="176.4" r="6.8"/><circle cx="1443.5" cy="153.2" r="6.8"/><circle cx="1446.5" cy="171.8" r="6.8"/><circle cx="1449.6" cy="168.0" r="6.8"/><circle cx="1452.7" cy="192.5" r="6.8"/><circle cx="1455.7" cy="160.7" r="6.8"/><circle cx="1458.8" cy="174.2" r="6.8"/><circle cx="1461.9" cy="149.6" r="6.8"/><circle cx="1465.0" cy="198.9" r="6.8"/><circle cx="1468.0" cy="152.5" r="6.8"/><circle cx="1471.1" cy="155.8" r="6.8"/><circle cx="1474.2" cy="183.8" r="6.8"/><circle cx="1477.3" cy="164.7" r="6.8"/><circle cx="1480.3" cy="152.7" r="6.8"/><circle cx="1483.4" cy="131.0" r="6.8"/><circle cx="1486.5" cy="175.2" r="6.8"/><circle cx="1489.6" cy="125.8" r="6.8"/><circle cx="1492.6" cy="187.3" r="6.8"/><circle cx="1495.7" cy="154.2" r="6.8"/><circle cx="1498.8" cy="198.3" r="6.8"/><circle cx="1501.8" cy="207.6" r="6.8"/><circle cx="1504.9" cy="158.6" r="6.8"/><circle cx="1508.0" cy="188.4" r="6.8"/><circle cx="1511.1" cy="188.4" r="6.8"/><circle cx="1514.1" cy="145.5" r="6.8"/><circle cx="1517.2" cy="140.9" r="6.8"/><circle cx="1520.3" cy="155.9" r="6.8"/><circle cx="1523.4" cy="189.6" r="6.8"/><circle cx="1526.4" cy="153.3" r="6.8"/><circle cx="1529.5" cy="159.4" r="6.8"/><circle cx="1532.6" cy="204.1" r="6.8"/><circle cx="1535.7" cy="145.0" r="6.8"/><circle cx="1538.7" cy="117.1" r="6.8"/><circle cx="1541.8" cy="169.6" r="6.8"/><circle cx="1544.9" cy="183.2" r="6.8"/><circle cx="1548.0" cy="130.5" r="6.8"/><circle cx="1551.0" cy="164.5" r="6.8"/><circle cx="1554.1" cy="135.1" r="6.8"/><circle cx="1557.2" cy="197.7" r="6.8"/><circle cx="1560.2" cy="173.4" r="6.8"/><circle cx="1563.3" cy="169.6" r="6.8"/><circle cx="1566.4" cy="110.8" r="6.8"/><circle cx="1569.5" cy="170.3" r="6.8"/><circle cx="1572.5" cy="174.6" r="6.8"/><circle cx="1575.6" cy="147.9" r="6.8"/><circle cx="1578.7" cy="178.8" r="6.8"/><circle cx="1581.8" cy="177.4" r="6.8"/><circle cx="1584.8" cy="171.2" r="6.8"/><circle cx="1587.9" cy="157.6" r="6.8"/><circle cx="1591.0" cy="149.0" r="6.8"/><circle cx="1594.1" cy="203.5" r="6.8"/><circle cx="1597.1" cy="165.3" r="6.8"/><circle cx="1600.2" cy="174.5" r="6.8"/><circle cx="1603.3" cy="157.0" r="6.8"/><circle cx="1606.3" cy="152.3" r="6.8"/><circle cx="1609.4" cy="123.7" r="6.8"/><circle cx="1612.5" cy="165.2" r="6.8"/><circle cx="1615.6" cy="138.6" r="6.8"/><circle cx="1618.6" cy="155.4" r="6.8"/><circle cx="1621.7" cy="193.1" r="6.8"/><circle cx="1624.8" cy="173.9" r="6.8"/></g><polyline points="155.7,170.4 158.8,172.2 161.8,177.5 164.9,184.6 168.0,193.5 171.1,200.6 174.1,207.7 177.2,216.6 180.3,221.9 183.4,229.0 186.4,234.3 189.5,239.7 192.6,250.3 195.7,253.9 198.7,259.2 201.8,262.7 204.9,268.1 207.9,269.8 211.0,271.6 214.1,275.2 217.2,275.2 220.2,278.7 223.3,278.7 226.4,282.2 229.5,280.5 232.5,280.5 235.6,282.2 238.7,278.7 241.8,284.0 244.8,285.8 247.9,292.9 251.0,296.5 254.0,300.0 257.1,301.8 260.2,303.6 263.3,307.1 266.3,310.7 269.4,312.4 272.5,310.7 275.6,308.9 278.6,310.7 281.7,308.9 284.8,307.1 287.9,310.7 290.9,310.7 294.0,308.9 297.1,312.4 300.1,310.7 303.2,314.2 306.3,321.3 309.4,319.5 312.4,321.3 315.5,323.1 318.6,321.3 321.7,321.3 324.7,321.3 327.8,321.3 330.9,323.1 334.0,324.9 337.0,326.6 340.1,326.6 343.2,330.2 346.3,333.7 349.3,337.3 352.4,337.3 355.5,339.1 358.5,337.3 361.6,344.4 364.7,346.2 367.8,344.4 370.8,344.4 373.9,346.2 377.0,349.7 380.1,351.5 383.1,347.9 386.2,349.7 389.3,349.7 392.4,347.9 395.4,347.9 398.5,349.7 401.6,349.7 404.6,349.7 407.7,349.7 410.8,351.5 413.9,351.5 416.9,351.5 420.0,355.0 423.1,351.5 426.2,351.5 429.2,351.5 432.3,356.8 435.4,356.8 438.5,358.6 441.5,369.2 444.6,369.2 447.7,371.0 450.7,376.3 453.8,372.8 456.9,374.6 460.0,376.3 463.0,376.3 466.1,374.6 469.2,376.3 472.3,374.6 475.3,376.3 478.4,378.1 481.5,376.3 484.6,376.3 487.6,378.1 490.7,374.6 493.8,372.8 496.8,376.3 499.9,379.9 503.0,379.9 506.1,379.9 509.1,379.9 512.2,378.1 515.3,381.7 518.4,378.1 521.4,381.7 524.5,381.7 527.6,381.7 530.7,383.4 533.7,385.2 536.8,387.0 539.9,388.8 542.9,388.8 546.0,388.8 549.1,390.5 552.2,388.8 555.2,390.5 558.3,392.3 561.4,392.3 564.5,392.3 567.5,390.5 570.6,392.3 573.7,394.1 576.8,392.3 579.8,390.5 582.9,388.8 586.0,388.8 589.0,387.0 592.1,387.0 595.2,395.9 598.3,395.9 601.3,394.1 604.4,394.1 607.5,394.1 610.6,395.9 613.6,395.9 616.7,399.4 619.8,401.2 622.9,395.9 625.9,399.4 629.0,399.4 632.1,399.4 635.2,401.2 638.2,401.2 641.3,404.7 644.4,401.2 647.4,401.2 650.5,404.7 653.6,404.7 656.7,403.0 659.7,403.0 662.8,403.0 665.9,408.3 669.0,406.5 672.0,406.5 675.1,404.7 678.2,404.7 681.3,410.1 684.3,404.7 687.4,408.3 690.5,404.7 693.5,408.3 696.6,404.7 699.7,404.7 702.8,406.5 705.8,406.5 708.9,406.5 712.0,406.5 715.1,408.3 718.1,408.3 721.2,408.3 724.3,411.8 727.4,410.1 730.4,413.6 733.5,413.6 736.6,413.6 739.6,413.6 742.7,413.6 745.8,415.4 748.9,413.6 751.9,415.4 755.0,415.4 758.1,413.6 761.2,415.4 764.2,415.4 767.3,415.4 770.4,411.8 773.5,413.6 776.5,411.8 779.6,415.4 782.7,413.6 785.7,415.4 788.8,413.6 791.9,411.8 795.0,415.4 798.0,413.6 801.1,415.4 804.2,417.2 807.3,418.9 810.3,417.2 813.4,418.9 816.5,418.9 819.6,418.9 822.6,418.9 825.7,418.9 828.8,420.7 831.8,418.9 834.9,418.9 838.0,418.9 841.1,420.7 844.1,420.7 847.2,418.9 850.3,420.7 853.4,420.7 856.4,418.9 859.5,420.7 862.6,424.2 865.7,422.5 868.7,424.2 871.8,422.5 874.9,422.5 877.9,424.2 881.0,422.5 884.1,422.5 887.2,424.2 890.2,422.5 893.3,424.2 896.4,424.2 899.5,422.5 902.5,424.2 905.6,426.0 908.7,424.2 911.8,426.0 914.8,426.0 917.9,427.8 921.0,424.2 924.0,426.0 927.1,426.0 930.2,426.0 933.3,426.0 936.3,426.0 939.4,426.0 942.5,426.0 945.6,427.8 948.6,427.8 951.7,427.8 954.8,427.8 957.9,429.6 960.9,427.8 964.0,426.0 967.1,429.6 970.2,427.8 973.2,426.0 976.3,426.0 979.4,427.8 982.4,427.8 985.5,427.8 988.6,429.6 991.7,429.6 994.7,429.6 997.8,427.8 1000.9,429.6 1004.0,429.6 1007.0,429.6 1010.1,431.4 1013.2,429.6 1016.3,431.4 1019.3,429.6 1022.4,431.4 1025.5,429.6 1028.5,431.4 1031.6,433.1 1034.7,429.6 1037.8,431.4 1040.8,433.1 1043.9,433.1 1047.0,431.4 1050.1,431.4 1053.1,429.6 1056.2,429.6 1059.3,429.6 1062.4,429.6 1065.4,429.6 1068.5,429.6 1071.6,429.6 1074.6,433.1 1077.7,429.6 1080.8,429.6 1083.9,431.4 1086.9,431.4 1090.0,429.6 1093.1,433.1 1096.2,431.4 1099.2,429.6 1102.3,433.1 1105.4,431.4 1108.5,431.4 1111.5,433.1 1114.6,431.4 1117.7,431.4 1120.7,433.1 1123.8,433.1 1126.9,433.1 1130.0,431.4 1133.0,433.1 1136.1,433.1 1139.2,433.1 1142.3,433.1 1145.3,433.1 1148.4,433.1 1151.5,433.1 1154.6,434.9 1157.6,431.4 1160.7,433.1 1163.8,433.1 1166.8,436.7 1169.9,433.1 1173.0,433.1 1176.1,433.1 1179.1,433.1 1182.2,434.9 1185.3,433.1 1188.4,436.7 1191.4,433.1 1194.5,434.9 1197.6,434.9 1200.7,433.1 1203.7,433.1 1206.8,436.7 1209.9,436.7 1212.9,434.9 1216.0,434.9 1219.1,436.7 1222.2,436.7 1225.2,434.9 1228.3,434.9 1231.4,436.7 1234.5,438.5 1237.5,434.9 1240.6,434.9 1243.7,434.9 1246.8,436.7 1249.8,436.7 1252.9,436.7 1256.0,438.5 1259.1,436.7 1262.1,436.7 1265.2,436.7 1268.3,438.5 1271.3,436.7 1274.4,436.7 1277.5,436.7 1280.6,436.7 1283.6,436.7 1286.7,438.5 1289.8,436.7 1292.9,436.7 1295.9,438.5 1299.0,438.5 1302.1,438.5 1305.2,438.5 1308.2,438.5 1311.3,438.5 1314.4,438.5 1317.4,438.5 1320.5,438.5 1323.6,438.5 1326.7,436.7 1329.7,438.5 1332.8,438.5 1335.9,438.5 1339.0,438.5 1342.0,440.2 1345.1,438.5 1348.2,438.5 1351.3,438.5 1354.3,440.2 1357.4,440.2 1360.5,440.2 1363.5,436.7 1366.6,438.5 1369.7,440.2 1372.8,440.2 1375.8,438.5 1378.9,438.5 1382.0,438.5 1385.1,438.5 1388.1,438.5 1391.2,438.5 1394.3,438.5 1397.4,438.5 1400.4,438.5 1403.5,438.5 1406.6,440.2 1409.6,440.2 1412.7,438.5 1415.8,440.2 1418.9,438.5 1421.9,438.5 1425.0,438.5 1428.1,440.2 1431.2,436.7 1434.2,438.5 1437.3,440.2 1440.4,440.2 1443.5,438.5 1446.5,440.2 1449.6,438.5 1452.7,438.5 1455.7,440.2 1458.8,442.0 1461.9,440.2 1465.0,440.2 1468.0,440.2 1471.1,440.2 1474.2,440.2 1477.3,440.2 1480.3,440.2 1483.4,440.2 1486.5,440.2 1489.6,440.2 1492.6,440.2 1495.7,442.0 1498.8,442.0 1501.8,440.2 1504.9,442.0 1508.0,442.0 1511.1,442.0 1514.1,442.0 1517.2,440.2 1520.3,440.2 1523.4,440.2 1526.4,440.2 1529.5,442.0 1532.6,438.5 1535.7,440.2 1538.7,440.2 1541.8,442.0 1544.9,440.2 1548.0,442.0 1551.0,440.2 1554.1,440.2 1557.2,442.0 1560.2,440.2 1563.3,440.2 1566.4,442.0 1569.5,442.0 1572.5,442.0 1575.6,442.0 1578.7,442.0 1581.8,440.2 1584.8,440.2 1587.9,440.2 1591.0,440.2 1594.1,438.5 1597.1,440.2 1600.2,442.0 1603.3,440.2 1606.3,442.0 1609.4,440.2 1612.5,440.2 1615.6,440.2 1618.6,440.2 1621.7,442.0 1624.8,440.2" fill="none" stroke="#ff7f0e" stroke-width="3.1" stroke-linejoin="round"/><g fill="#ff7f0e"><circle cx="155.7" cy="170.4" r="7.4"/><circle cx="158.8" cy="172.2" r="7.4"/><circle cx="161.8" cy="177.5" r="7.4"/><circle cx="164.9" cy="184.6" r="7.4"/><circle cx="168.0" cy="193.5" r="7.4"/><circle cx="171.1" cy="200.6" r="7.4"/><circle cx="174.1" cy="207.7" r="7.4"/><circle cx="177.2" cy="216.6" r="7.4"/><circle cx="180.3" cy="221.9" r="7.4"/><circle cx="183.4" cy="229.0" r="7.4"/><circle cx="186.4" cy="234.3" r="7.4"/><circle cx="189.5" cy="239.7" r="7.4"/><circle cx="192.6" cy="250.3" r="7.4"/><circle cx="195.7" cy="253.9" r="7.4"/><circle cx="198.7" cy="259.2" r="7.4"/><circle cx="201.8" cy="262.7" r="7.4"/><circle cx="204.9" cy="268.1" r="7.4"/><circle cx="207.9" cy="269.8" r="7.4"/><circle cx="211.0" cy="271.6" r="7.4"/><circle cx="214.1" cy="275.2" r="7.4"/><circle cx="217.2" cy="275.2" r="7.4"/><circle cx="220.2" cy="278.7" r="7.4"/><circle cx="223.3" cy="278.7" r="7.4"/><circle cx="226.4" cy="282.2" r="7.4"/><circle cx="229.5" cy="280.5" r="7.4"/><circle cx="232.5" cy="280.5" r="7.4"/><circle cx="235.6" cy="282.2" r="7.4"/><circle cx="238.7" cy="278.7" r="7.4"/><circle cx="241.8" cy="284.0" r="7.4"/><circle cx="244.8" cy="285.8" r="7.4"/><circle cx="247.9" cy="292.9" r="7.4"/><circle cx="251.0" cy="296.5" r="7.4"/><circle cx="254.0" cy="300.0" r="7.4"/><circle cx="257.1" cy="301.8" r="7.4"/><circle cx="260.2" cy="303.6" r="7.4"/><circle cx="263.3" cy="307.1" r="7.4"/><circle cx="266.3" cy="310.7" r="7.4"/><circle cx="269.4" cy="312.4" r="7.4"/><circle cx="272.5" cy="310.7" r="7.4"/><circle cx="275.6" cy="308.9" r="7.4"/><circle cx="278.6" cy="310.7" r="7.4"/><circle cx="281.7" cy="308.9" r="7.4"/><circle cx="284.8" cy="307.1" r="7.4"/><circle cx="287.9" cy="310.7" r="7.4"/><circle cx="290.9" cy="310.7" r="7.4"/><circle cx="294.0" cy="308.9" r="7.4"/><circle cx="297.1" cy="312.4" r="7.4"/><circle cx="300.1" cy="310.7" r="7.4"/><circle cx="303.2" cy="314.2" r="7.4"/><circle cx="306.3" cy="321.3" r="7.4"/><circle cx="309.4" cy="319.5" r="7.4"/><circle cx="312.4" cy="321.3" r="7.4"/><circle cx="315.5" cy="323.1" r="7.4"/><circle cx="318.6" cy="321.3" r="7.4"/><circle cx="321.7" cy="321.3" r="7.4"/><circle cx="324.7" cy="321.3" r="7.4"/><circle cx="327.8" cy="321.3" r="7.4"/><circle cx="330.9" cy="323.1" r="7.4"/><circle cx="334.0" cy="324.9" r="7.4"/><circle cx="337.0" cy="326.6" r="7.4"/><circle cx="340.1" cy="326.6" r="7.4"/><circle cx="343.2" cy="330.2" r="7.4"/><circle cx="346.3" cy="333.7" r="7.4"/><circle cx="349.3" cy="337.3" r="7.4"/><circle cx="352.4" cy="337.3" r="7.4"/><circle cx="355.5" cy="339.1" r="7.4"/><circle cx="358.5" cy="337.3" r="7.4"/><circle cx="361.6" cy="344.4" r="7.4"/><circle cx="364.7" cy="346.2" r="7.4"/><circle cx="367.8" cy="344.4" r="7.4"/><circle cx="370.8" cy="344.4" r="7.4"/><circle cx="373.9" cy="346.2" r="7.4"/><circle cx="377.0" cy="349.7" r="7.4"/><circle cx="380.1" cy="351.5" r="7.4"/><circle cx="383.1" cy="347.9" r="7.4"/><circle cx="386.2" cy="349.7" r="7.4"/><circle cx="389.3" cy="349.7" r="7.4"/><circle cx="392.4" cy="347.9" r="7.4"/><circle cx="395.4" cy="347.9" r="7.4"/><circle cx="398.5" cy="349.7" r="7.4"/><circle cx="401.6" cy="349.7" r="7.4"/><circle cx="404.6" cy="349.7" r="7.4"/><circle cx="407.7" cy="349.7" r="7.4"/><circle cx="410.8" cy="351.5" r="7.4"/><circle cx="413.9" cy="351.5" r="7.4"/><circle cx="416.9" cy="351.5" r="7.4"/><circle cx="420.0" cy="355.0" r="7.4"/><circle cx="423.1" cy="351.5" r="7.4"/><circle cx="426.2" cy="351.5" r="7.4"/><circle cx="429.2" cy="351.5" r="7.4"/><circle cx="432.3" cy="356.8" r="7.4"/><circle cx="435.4" cy="356.8" r="7.4"/><circle cx="438.5" cy="358.6" r="7.4"/><circle cx="441.5" cy="369.2" r="7.4"/><circle cx="444.6" cy="369.2" r="7.4"/><circle cx="447.7" cy="371.0" r="7.4"/><circle cx="450.7" cy="376.3" r="7.4"/><circle cx="453.8" cy="372.8" r="7.4"/><circle cx="456.9" cy="374.6" r="7.4"/><circle cx="460.0" cy="376.3" r="7.4"/><circle cx="463.0" cy="376.3" r="7.4"/><circle cx="466.1" cy="374.6" r="7.4"/><circle cx="469.2" cy="376.3" r="7.4"/><circle cx="472.3" cy="374.6" r="7.4"/><circle cx="475.3" cy="376.3" r="7.4"/><circle cx="478.4" cy="378.1" r="7.4"/><circle cx="481.5" cy="376.3" r="7.4"/><circle cx="484.6" cy="376.3" r="7.4"/><circle cx="487.6" cy="378.1" r="7.4"/><circle cx="490.7" cy="374.6" r="7.4"/><circle cx="493.8" cy="372.8" r="7.4"/><circle cx="496.8" cy="376.3" r="7.4"/><circle cx="499.9" cy="379.9" r="7.4"/><circle cx="503.0" cy="379.9" r="7.4"/><circle cx="506.1" cy="379.9" r="7.4"/><circle cx="509.1" cy="379.9" r="7.4"/><circle cx="512.2" cy="378.1" r="7.4"/><circle cx="515.3" cy="381.7" r="7.4"/><circle cx="518.4" cy="378.1" r="7.4"/><circle cx="521.4" cy="381.7" r="7.4"/><circle cx="524.5" cy="381.7" r="7.4"/><circle cx="527.6" cy="381.7" r="7.4"/><circle cx="530.7" cy="383.4" r="7.4"/><circle cx="533.7" cy="385.2" r="7.4"/><circle cx="536.8" cy="387.0" r="7.4"/><circle cx="539.9" cy="388.8" r="7.4"/><circle cx="542.9" cy="388.8" r="7.4"/><circle cx="546.0" cy="388.8" r="7.4"/><circle cx="549.1" cy="390.5" r="7.4"/><circle cx="552.2" cy="388.8" r="7.4"/><circle cx="555.2" cy="390.5" r="7.4"/><circle cx="558.3" cy="392.3" r="7.4"/><circle cx="561.4" cy="392.3" r="7.4"/><circle cx="564.5" cy="392.3" r="7.4"/><circle cx="567.5" cy="390.5" r="7.4"/><circle cx="570.6" cy="392.3" r="7.4"/><circle cx="573.7" cy="394.1" r="7.4"/><circle cx="576.8" cy="392.3" r="7.4"/><circle cx="579.8" cy="390.5" r="7.4"/><circle cx="582.9" cy="388.8" r="7.4"/><circle cx="586.0" cy="388.8" r="7.4"/><circle cx="589.0" cy="387.0" r="7.4"/><circle cx="592.1" cy="387.0" r="7.4"/><circle cx="595.2" cy="395.9" r="7.4"/><circle cx="598.3" cy="395.9" r="7.4"/><circle cx="601.3" cy="394.1" r="7.4"/><circle cx="604.4" cy="394.1" r="7.4"/><circle cx="607.5" cy="394.1" r="7.4"/><circle cx="610.6" cy="395.9" r="7.4"/><circle cx="613.6" cy="395.9" r="7.4"/><circle cx="616.7" cy="399.4" r="7.4"/><circle cx="619.8" cy="401.2" r="7.4"/><circle cx="622.9" cy="395.9" r="7.4"/><circle cx="625.9" cy="399.4" r="7.4"/><circle cx="629.0" cy="399.4" r="7.4"/><circle cx="632.1" cy="399.4" r="7.4"/><circle cx="635.2" cy="401.2" r="7.4"/><circle cx="638.2" cy="401.2" r="7.4"/><circle cx="641.3" cy="404.7" r="7.4"/><circle cx="644.4" cy="401.2" r="7.4"/><circle cx="647.4" cy="401.2" r="7.4"/><circle cx="650.5" cy="404.7" r="7.4"/><circle cx="653.6" cy="404.7" r="7.4"/><circle cx="656.7" cy="403.0" r="7.4"/><circle cx="659.7" cy="403.0" r="7.4"/><circle cx="662.8" cy="403.0" r="7.4"/><circle cx="665.9" cy="408.3" r="7.4"/><circle cx="669.0" cy="406.5" r="7.4"/><circle cx="672.0" cy="406.5" r="7.4"/><circle cx="675.1" cy="404.7" r="7.4"/><circle cx="678.2" cy="404.7" r="7.4"/><circle cx="681.3" cy="410.1" r="7.4"/><circle cx="684.3" cy="404.7" r="7.4"/><circle cx="687.4" cy="408.3" r="7.4"/><circle cx="690.5" cy="404.7" r="7.4"/><circle cx="693.5" cy="408.3" r="7.4"/><circle cx="696.6" cy="404.7" r="7.4"/><circle cx="699.7" cy="404.7" r="7.4"/><circle cx="702.8" cy="406.5" r="7.4"/><circle cx="705.8" cy="406.5" r="7.4"/><circle cx="708.9" cy="406.5" r="7.4"/><circle cx="712.0" cy="406.5" r="7.4"/><circle cx="715.1" cy="408.3" r="7.4"/><circle cx="718.1" cy="408.3" r="7.4"/><circle cx="721.2" cy="408.3" r="7.4"/><circle cx="724.3" cy="411.8" r="7.4"/><circle cx="727.4" cy="410.1" r="7.4"/><circle cx="730.4" cy="413.6" r="7.4"/><circle cx="733.5" cy="413.6" r="7.4"/><circle cx="736.6" cy="413.6" r="7.4"/><circle cx="739.6" cy="413.6" r="7.4"/><circle cx="742.7" cy="413.6" r="7.4"/><circle cx="745.8" cy="415.4" r="7.4"/><circle cx="748.9" cy="413.6" r="7.4"/><circle cx="751.9" cy="415.4" r="7.4"/><circle cx="755.0" cy="415.4" r="7.4"/><circle cx="758.1" cy="413.6" r="7.4"/><circle cx="761.2" cy="415.4" r="7.4"/><circle cx="764.2" cy="415.4" r="7.4"/><circle cx="767.3" cy="415.4" r="7.4"/><circle cx="770.4" cy="411.8" r="7.4"/><circle cx="773.5" cy="413.6" r="7.4"/><circle cx="776.5" cy="411.8" r="7.4"/><circle cx="779.6" cy="415.4" r="7.4"/><circle cx="782.7" cy="413.6" r="7.4"/><circle cx="785.7" cy="415.4" r="7.4"/><circle cx="788.8" cy="413.6" r="7.4"/><circle cx="791.9" cy="411.8" r="7.4"/><circle cx="795.0" cy="415.4" r="7.4"/><circle cx="798.0" cy="413.6" r="7.4"/><circle cx="801.1" cy="415.4" r="7.4"/><circle cx="804.2" cy="417.2" r="7.4"/><circle cx="807.3" cy="418.9" r="7.4"/><circle cx="810.3" cy="417.2" r="7.4"/><circle cx="813.4" cy="418.9" r="7.4"/><circle cx="816.5" cy="418.9" r="7.4"/><circle cx="819.6" cy="418.9" r="7.4"/><circle cx="822.6" cy="418.9" r="7.4"/><circle cx="825.7" cy="418.9" r="7.4"/><circle cx="828.8" cy="420.7" r="7.4"/><circle cx="831.8" cy="418.9" r="7.4"/><circle cx="834.9" cy="418.9" r="7.4"/><circle cx="838.0" cy="418.9" r="7.4"/><circle cx="841.1" cy="420.7" r="7.4"/><circle cx="844.1" cy="420.7" r="7.4"/><circle cx="847.2" cy="418.9" r="7.4"/><circle cx="850.3" cy="420.7" r="7.4"/><circle cx="853.4" cy="420.7" r="7.4"/><circle cx="856.4" cy="418.9" r="7.4"/><circle cx="859.5" cy="420.7" r="7.4"/><circle cx="862.6" cy="424.2" r="7.4"/><circle cx="865.7" cy="422.5" r="7.4"/><circle cx="868.7" cy="424.2" r="7.4"/><circle cx="871.8" cy="422.5" r="7.4"/><circle cx="874.9" cy="422.5" r="7.4"/><circle cx="877.9" cy="424.2" r="7.4"/><circle cx="881.0" cy="422.5" r="7.4"/><circle cx="884.1" cy="422.5" r="7.4"/><circle cx="887.2" cy="424.2" r="7.4"/><circle cx="890.2" cy="422.5" r="7.4"/><circle cx="893.3" cy="424.2" r="7.4"/><circle cx="896.4" cy="424.2" r="7.4"/><circle cx="899.5" cy="422.5" r="7.4"/><circle cx="902.5" cy="424.2" r="7.4"/><circle cx="905.6" cy="426.0" r="7.4"/><circle cx="908.7" cy="424.2" r="7.4"/><circle cx="911.8" cy="426.0" r="7.4"/><circle cx="914.8" cy="426.0" r="7.4"/><circle cx="917.9" cy="427.8" r="7.4"/><circle cx="921.0" cy="424.2" r="7.4"/><circle cx="924.0" cy="426.0" r="7.4"/><circle cx="927.1" cy="426.0" r="7.4"/><circle cx="930.2" cy="426.0" r="7.4"/><circle cx="933.3" cy="426.0" r="7.4"/><circle cx="936.3" cy="426.0" r="7.4"/><circle cx="939.4" cy="426.0" r="7.4"/><circle cx="942.5" cy="426.0" r="7.4"/><circle cx="945.6" cy="427.8" r="7.4"/><circle cx="948.6" cy="427.8" r="7.4"/><circle cx="951.7" cy="427.8" r="7.4"/><circle cx="954.8" cy="427.8" r="7.4"/><circle cx="957.9" cy="429.6" r="7.4"/><circle cx="960.9" cy="427.8" r="7.4"/><circle cx="964.0" cy="426.0" r="7.4"/><circle cx="967.1" cy="429.6" r="7.4"/><circle cx="970.2" cy="427.8" r="7.4"/><circle cx="973.2" cy="426.0" r="7.4"/><circle cx="976.3" cy="426.0" r="7.4"/><circle cx="979.4" cy="427.8" r="7.4"/><circle cx="982.4" cy="427.8" r="7.4"/><circle cx="985.5" cy="427.8" r="7.4"/><circle cx="988.6" cy="429.6" r="7.4"/><circle cx="991.7" cy="429.6" r="7.4"/><circle cx="994.7" cy="429.6" r="7.4"/><circle cx="997.8" cy="427.8" r="7.4"/><circle cx="1000.9" cy="429.6" r="7.4"/><circle cx="1004.0" cy="429.6" r="7.4"/><circle cx="1007.0" cy="429.6" r="7.4"/><circle cx="1010.1" cy="431.4" r="7.4"/><circle cx="1013.2" cy="429.6" r="7.4"/><circle cx="1016.3" cy="431.4" r="7.4"/><circle cx="1019.3" cy="429.6" r="7.4"/><circle cx="1022.4" cy="431.4" r="7.4"/><circle cx="1025.5" cy="429.6" r="7.4"/><circle cx="1028.5" cy="431.4" r="7.4"/><circle cx="1031.6" cy="433.1" r="7.4"/><circle cx="1034.7" cy="429.6" r="7.4"/><circle cx="1037.8" cy="431.4" r="7.4"/><circle cx="1040.8" cy="433.1" r="7.4"/><circle cx="1043.9" cy="433.1" r="7.4"/><circle cx="1047.0" cy="431.4" r="7.4"/><circle cx="1050.1" cy="431.4" r="7.4"/><circle cx="1053.1" cy="429.6" r="7.4"/><circle cx="1056.2" cy="429.6" r="7.4"/><circle cx="1059.3" cy="429.6" r="7.4"/><circle cx="1062.4" cy="429.6" r="7.4"/><circle cx="1065.4" cy="429.6" r="7.4"/><circle cx="1068.5" cy="429.6" r="7.4"/><circle cx="1071.6" cy="429.6" r="7.4"/><circle cx="1074.6" cy="433.1" r="7.4"/><circle cx="1077.7" cy="429.6" r="7.4"/><circle cx="1080.8" cy="429.6" r="7.4"/><circle cx="1083.9" cy="431.4" r="7.4"/><circle cx="1086.9" cy="431.4" r="7.4"/><circle cx="1090.0" cy="429.6" r="7.4"/><circle cx="1093.1" cy="433.1" r="7.4"/><circle cx="1096.2" cy="431.4" r="7.4"/><circle cx="1099.2" cy="429.6" r="7.4"/><circle cx="1102.3" cy="433.1" r="7.4"/><circle cx="1105.4" cy="431.4" r="7.4"/><circle cx="1108.5" cy="431.4" r="7.4"/><circle cx="1111.5" cy="433.1" r="7.4"/><circle cx="1114.6" cy="431.4" r="7.4"/><circle cx="1117.7" cy="431.4" r="7.4"/><circle cx="1120.7" cy="433.1" r="7.4"/><circle cx="1123.8" cy="433.1" r="7.4"/><circle cx="1126.9" cy="433.1" r="7.4"/><circle cx="1130.0" cy="431.4" r="7.4"/><circle cx="1133.0" cy="433.1" r="7.4"/><circle cx="1136.1" cy="433.1" r="7.4"/><circle cx="1139.2" cy="433.1" r="7.4"/><circle cx="1142.3" cy="433.1" r="7.4"/><circle cx="1145.3" cy="433.1" r="7.4"/><circle cx="1148.4" cy="433.1" r="7.4"/><circle cx="1151.5" cy="433.1" r="7.4"/><circle cx="1154.6" cy="434.9" r="7.4"/><circle cx="1157.6" cy="431.4" r="7.4"/><circle cx="1160.7" cy="433.1" r="7.4"/><circle cx="1163.8" cy="433.1" r="7.4"/><circle cx="1166.8" cy="436.7" r="7.4"/><circle cx="1169.9" cy="433.1" r="7.4"/><circle cx="1173.0" cy="433.1" r="7.4"/><circle cx="1176.1" cy="433.1" r="7.4"/><circle cx="1179.1" cy="433.1" r="7.4"/><circle cx="1182.2" cy="434.9" r="7.4"/><circle cx="1185.3" cy="433.1" r="7.4"/><circle cx="1188.4" cy="436.7" r="7.4"/><circle cx="1191.4" cy="433.1" r="7.4"/><circle cx="1194.5" cy="434.9" r="7.4"/><circle cx="1197.6" cy="434.9" r="7.4"/><circle cx="1200.7" cy="433.1" r="7.4"/><circle cx="1203.7" cy="433.1" r="7.4"/><circle cx="1206.8" cy="436.7" r="7.4"/><circle cx="1209.9" cy="436.7" r="7.4"/><circle cx="1212.9" cy="434.9" r="7.4"/><circle cx="1216.0" cy="434.9" r="7.4"/><circle cx="1219.1" cy="436.7" r="7.4"/><circle cx="1222.2" cy="436.7" r="7.4"/><circle cx="1225.2" cy="434.9" r="7.4"/><circle cx="1228.3" cy="434.9" r="7.4"/><circle cx="1231.4" cy="436.7" r="7.4"/><circle cx="1234.5" cy="438.5" r="7.4"/><circle cx="1237.5" cy="434.9" r="7.4"/><circle cx="1240.6" cy="434.9" r="7.4"/><circle cx="1243.7" cy="434.9" r="7.4"/><circle cx="1246.8" cy="436.7" r="7.4"/><circle cx="1249.8" cy="436.7" r="7.4"/><circle cx="1252.9" cy="436.7" r="7.4"/><circle cx="1256.0" cy="438.5" r="7.4"/><circle cx="1259.1" cy="436.7" r="7.4"/><circle cx="1262.1" cy="436.7" r="7.4"/><circle cx="1265.2" cy="436.7" r="7.4"/><circle cx="1268.3" cy="438.5" r="7.4"/><circle cx="1271.3" cy="436.7" r="7.4"/><circle cx="1274.4" cy="436.7" r="7.4"/><circle cx="1277.5" cy="436.7" r="7.4"/><circle cx="1280.6" cy="436.7" r="7.4"/><circle cx="1283.6" cy="436.7" r="7.4"/><circle cx="1286.7" cy="438.5" r="7.4"/><circle cx="1289.8" cy="436.7" r="7.4"/><circle cx="1292.9" cy="436.7" r="7.4"/><circle cx="1295.9" cy="438.5" r="7.4"/><circle cx="1299.0" cy="438.5" r="7.4"/><circle cx="1302.1" cy="438.5" r="7.4"/><circle cx="1305.2" cy="438.5" r="7.4"/><circle cx="1308.2" cy="438.5" r="7.4"/><circle cx="1311.3" cy="438.5" r="7.4"/><circle cx="1314.4" cy="438.5" r="7.4"/><circle cx="1317.4" cy="438.5" r="7.4"/><circle cx="1320.5" cy="438.5" r="7.4"/><circle cx="1323.6" cy="438.5" r="7.4"/><circle cx="1326.7" cy="436.7" r="7.4"/><circle cx="1329.7" cy="438.5" r="7.4"/><circle cx="1332.8" cy="438.5" r="7.4"/><circle cx="1335.9" cy="438.5" r="7.4"/><circle cx="1339.0" cy="438.5" r="7.4"/><circle cx="1342.0" cy="440.2" r="7.4"/><circle cx="1345.1" cy="438.5" r="7.4"/><circle cx="1348.2" cy="438.5" r="7.4"/><circle cx="1351.3" cy="438.5" r="7.4"/><circle cx="1354.3" cy="440.2" r="7.4"/><circle cx="1357.4" cy="440.2" r="7.4"/><circle cx="1360.5" cy="440.2" r="7.4"/><circle cx="1363.5" cy="436.7" r="7.4"/><circle cx="1366.6" cy="438.5" r="7.4"/><circle cx="1369.7" cy="440.2" r="7.4"/><circle cx="1372.8" cy="440.2" r="7.4"/><circle cx="1375.8" cy="438.5" r="7.4"/><circle cx="1378.9" cy="438.5" r="7.4"/><circle cx="1382.0" cy="438.5" r="7.4"/><circle cx="1385.1" cy="438.5" r="7.4"/><circle cx="1388.1" cy="438.5" r="7.4"/><circle cx="1391.2" cy="438.5" r="7.4"/><circle cx="1394.3" cy="438.5" r="7.4"/><circle cx="1397.4" cy="438.5" r="7.4"/><circle cx="1400.4" cy="438.5" r="7.4"/><circle cx="1403.5" cy="438.5" r="7.4"/><circle cx="1406.6" cy="440.2" r="7.4"/><circle cx="1409.6" cy="440.2" r="7.4"/><circle cx="1412.7" cy="438.5" r="7.4"/><circle cx="1415.8" cy="440.2" r="7.4"/><circle cx="1418.9" cy="438.5" r="7.4"/><circle cx="1421.9" cy="438.5" r="7.4"/><circle cx="1425.0" cy="438.5" r="7.4"/><circle cx="1428.1" cy="440.2" r="7.4"/><circle cx="1431.2" cy="436.7" r="7.4"/><circle cx="1434.2" cy="438.5" r="7.4"/><circle cx="1437.3" cy="440.2" r="7.4"/><circle cx="1440.4" cy="440.2" r="7.4"/><circle cx="1443.5" cy="438.5" r="7.4"/><circle cx="1446.5" cy="440.2" r="7.4"/><circle cx="1449.6" cy="438.5" r="7.4"/><circle cx="1452.7" cy="438.5" r="7.4"/><circle cx="1455.7" cy="440.2" r="7.4"/><circle cx="1458.8" cy="442.0" r="7.4"/><circle cx="1461.9" cy="440.2" r="7.4"/><circle cx="1465.0" cy="440.2" r="7.4"/><circle cx="1468.0" cy="440.2" r="7.4"/><circle cx="1471.1" cy="440.2" r="7.4"/><circle cx="1474.2" cy="440.2" r="7.4"/><circle cx="1477.3" cy="440.2" r="7.4"/><circle cx="1480.3" cy="440.2" r="7.4"/><circle cx="1483.4" cy="440.2" r="7.4"/><circle cx="1486.5" cy="440.2" r="7.4"/><circle cx="1489.6" cy="440.2" r="7.4"/><circle cx="1492.6" cy="440.2" r="7.4"/><circle cx="1495.7" cy="442.0" r="7.4"/><circle cx="1498.8" cy="442.0" r="7.4"/><circle cx="1501.8" cy="440.2" r="7.4"/><circle cx="1504.9" cy="442.0" r="7.4"/><circle cx="1508.0" cy="442.0" r="7.4"/><circle cx="1511.1" cy="442.0" r="7.4"/><circle cx="1514.1" cy="442.0" r="7.4"/><circle cx="1517.2" cy="440.2" r="7.4"/><circle cx="1520.3" cy="440.2" r="7.4"/><circle cx="1523.4" cy="440.2" r="7.4"/><circle cx="1526.4" cy="440.2" r="7.4"/><circle cx="1529.5" cy="442.0" r="7.4"/><circle cx="1532.6" cy="438.5" r="7.4"/><circle cx="1535.7" cy="440.2" r="7.4"/><circle cx="1538.7" cy="440.2" r="7.4"/><circle cx="1541.8" cy="442.0" r="7.4"/><circle cx="1544.9" cy="440.2" r="7.4"/><circle cx="1548.0" cy="442.0" r="7.4"/><circle cx="1551.0" cy="440.2" r="7.4"/><circle cx="1554.1" cy="440.2" r="7.4"/><circle cx="1557.2" cy="442.0" r="7.4"/><circle cx="1560.2" cy="440.2" r="7.4"/><circle cx="1563.3" cy="440.2" r="7.4"/><circle cx="1566.4" cy="442.0" r="7.4"/><circle cx="1569.5" cy="442.0" r="7.4"/><circle cx="1572.5" cy="442.0" r="7.4"/><circle cx="1575.6" cy="442.0" r="7.4"/><circle cx="1578.7" cy="442.0" r="7.4"/><circle cx="1581.8" cy="440.2" r="7.4"/><circle cx="1584.8" cy="440.2" r="7.4"/><circle cx="1587.9" cy="440.2" r="7.4"/><circle cx="1591.0" cy="440.2" r="7.4"/><circle cx="1594.1" cy="438.5" r="7.4"/><circle cx="1597.1" cy="440.2" r="7.4"/><circle cx="1600.2" cy="442.0" r="7.4"/><circle cx="1603.3" cy="440.2" r="7.4"/><circle cx="1606.3" cy="442.0" r="7.4"/><circle cx="1609.4" cy="440.2" r="7.4"/><circle cx="1612.5" cy="440.2" r="7.4"/><circle cx="1615.6" cy="440.2" r="7.4"/><circle cx="1618.6" cy="440.2" r="7.4"/><circle cx="1621.7" cy="442.0" r="7.4"/><circle cx="1624.8" cy="440.2" r="7.4"/></g><rect x="82.6" y="85" width="1616.2" height="375.3" fill="none" stroke="#141414" stroke-width="1.8"/><g stroke="#141414" stroke-width="1.8"><line x1="75.5" y1="118.0" x2="82.6" y2="118.0"/><line x1="75.5" y1="165.3" x2="82.6" y2="165.3"/><line x1="75.5" y1="212.6" x2="82.6" y2="212.6"/><line x1="75.5" y1="259.9" x2="82.6" y2="259.9"/><line x1="75.5" y1="307.2" x2="82.6" y2="307.2"/><line x1="75.5" y1="354.5" x2="82.6" y2="354.5"/><line x1="75.5" y1="401.8" x2="82.6" y2="401.8"/><line x1="75.5" y1="449.1" x2="82.6" y2="449.1"/><line x1="155.7" y1="460.3" x2="155.7" y2="467"/><line x1="463.0" y1="460.3" x2="463.0" y2="467"/><line x1="770.4" y1="460.3" x2="770.4" y2="467"/><line x1="1077.7" y1="460.3" x2="1077.7" y2="467"/><line x1="1385.1" y1="460.3" x2="1385.1" y2="467"/><line x1="1692.4" y1="460.3" x2="1692.4" y2="467"/></g><rect x="155" y="451.9" width="526.7" height="8.6" fill="#f8464e" fill-opacity="0.93"/><rect x="686.8" y="451.9" width="503.8" height="8.6" fill="#0a9ff7" fill-opacity="0.93"/><rect x="1193.6" y="451.9" width="443" height="8.6" fill="#a87cf6" fill-opacity="0.93"/><g font-size="18.5" fill="#0a0a0a" stroke="#0a0a0a" stroke-width="0.25" text-anchor="middle"><text x="155.7" y="487.2">0</text><text x="463.0" y="487.2">100</text><text x="770.4" y="487.2">200</text><text x="1077.7" y="487.2">300</text><text x="1692.4" y="487.2">500</text></g><g font-size="27" fill="#0a0a0a" stroke="#0a0a0a" stroke-width="0.3" text-anchor="middle"><text transform="translate(78.2 163.5) rotate(-90)">N/2</text><text transform="translate(77.4 450.6) rotate(-90)">0</text></g><text transform="translate(43.3 284.4) rotate(-90)" font-size="33.8" fill="#0a0a0a" stroke="#0a0a0a" stroke-width="0.3" text-anchor="middle">Hamming distance</text><text x="910" y="526.1" font-size="37" fill="#050505" stroke="#050505" stroke-width="0.25" text-anchor="middle">Training epoch</text><g font-size="33.5" text-anchor="middle"><text x="378.2" y="491" fill="#ea4d58">Phase A</text><text x="925.4" y="491" fill="#139bee">Phase B</text><text x="1405.2" y="491" fill="#a47ff0">Phase C</text></g><rect x="1132.6" y="263.8" width="518.6" height="120.4" rx="6" ry="6" fill="#fff" fill-opacity="0.85" stroke="#d2d2d2" stroke-width="1.3"/><line x1="1147" y1="293.6" x2="1227" y2="293.6" stroke="#1f77b4" stroke-width="2.3"/><circle cx="1187" cy="293.6" r="6.4" fill="#1f77b4"/><line x1="1147" y1="347.6" x2="1227" y2="347.6" stroke="#ff7f0e" stroke-width="2.3"/><circle cx="1187" cy="347.6" r="6.4" fill="#ff7f0e"/><g font-size="38.6" fill="#0a0a0a" stroke="#0a0a0a" stroke-width="0.25"><text x="1256.6" y="307.6">without the regularizer</text><text x="1256.6" y="362">with the regularizer</text></g><text x="268.7" y="724.8" font-size="33.8" fill="#ea4760" text-anchor="middle">Phase A</text><text x="398.7" y="1103.3" font-size="33.65" fill="#242424" text-anchor="middle">ground state</text><g fill="#2a6fba"><circle cx="70.9" cy="761.5" r="6.4"/><circle cx="131.9" cy="761.5" r="6.4"/><circle cx="198.7" cy="761.5" r="6.4"/><circle cx="266.6" cy="761.5" r="6.4"/><circle cx="329.1" cy="761.5" r="6.4"/><circle cx="30.3" cy="781.9" r="6.4"/><circle cx="93.0" cy="783.8" r="6.4"/><circle cx="154.1" cy="783.8" r="6.4"/><circle cx="220.9" cy="783.8" r="6.4"/><circle cx="289.0" cy="783.8" r="6.4"/><circle cx="351.4" cy="783.8" r="6.4"/><circle cx="52.4" cy="804.1" r="6.4"/><circle cx="115.4" cy="805.9" r="6.4"/><circle cx="176.4" cy="805.9" r="6.4"/><circle cx="243.2" cy="805.9" r="6.4"/><circle cx="311.4" cy="805.9" r="6.4"/><circle cx="74.8" cy="826.7" r="6.4"/><circle cx="137.9" cy="828.3" r="6.4"/><circle cx="198.6" cy="828.3" r="6.4"/><circle cx="265.6" cy="828.3" r="6.4"/><circle cx="333.4" cy="828.3" r="6.4"/><circle cx="40.5" cy="848.8" r="6.4"/><circle cx="97.2" cy="848.8" r="6.4"/><circle cx="159.9" cy="850.8" r="6.4"/><circle cx="221.1" cy="850.8" r="6.4"/><circle cx="287.8" cy="850.8" r="6.4"/><circle cx="355.8" cy="850.8" r="6.4"/><circle cx="62.9" cy="871.2" r="6.4"/><circle cx="119.3" cy="871.2" r="6.4"/><circle cx="182.4" cy="873.0" r="6.4"/><circle cx="243.3" cy="873.1" r="6.4"/><circle cx="310.2" cy="873.1" r="6.4"/><circle cx="85.3" cy="893.5" r="6.4"/><circle cx="141.7" cy="893.7" r="6.4"/><circle cx="204.7" cy="895.4" r="6.4"/><circle cx="265.6" cy="895.4" r="6.4"/><circle cx="332.6" cy="895.4" r="6.4"/><circle cx="49.0" cy="916.3" r="6.4"/><circle cx="107.5" cy="916.0" r="6.4"/><circle cx="164.1" cy="916.0" r="6.4"/><circle cx="227.1" cy="917.8" r="6.4"/><circle cx="287.8" cy="917.8" r="6.4"/><circle cx="355.0" cy="917.8" r="6.4"/><circle cx="71.5" cy="938.7" r="6.4"/><circle cx="129.8" cy="938.3" r="6.4"/><circle cx="187.0" cy="938.4" r="6.4"/><circle cx="249.6" cy="940.1" r="6.4"/><circle cx="310.2" cy="940.1" r="6.4"/><circle cx="35.9" cy="962.9" r="6.4"/><circle cx="93.5" cy="960.9" r="6.4"/><circle cx="152.2" cy="960.7" r="6.4"/><circle cx="208.7" cy="960.7" r="6.4"/><circle cx="271.7" cy="962.5" r="6.4"/><circle cx="332.6" cy="962.5" r="6.4"/></g><g fill="#f17a28"><circle cx="101.0" cy="760.7" r="6.4"/><circle cx="162.0" cy="760.7" r="6.4"/><circle cx="228.8" cy="760.7" r="6.4"/><circle cx="296.7" cy="760.7" r="6.4"/><circle cx="359.2" cy="760.7" r="6.4"/><circle cx="60.4" cy="781.1" r="6.4"/><circle cx="123.1" cy="783.0" r="6.4"/><circle cx="184.2" cy="783.0" r="6.4"/><circle cx="251.0" cy="783.0" r="6.4"/><circle cx="319.1" cy="783.0" r="6.4"/><circle cx="381.5" cy="783.0" r="6.4"/><circle cx="82.5" cy="803.3" r="6.4"/><circle cx="145.5" cy="805.1" r="6.4"/><circle cx="206.5" cy="805.1" r="6.4"/><circle cx="273.3" cy="805.1" r="6.4"/><circle cx="341.5" cy="805.1" r="6.4"/><circle cx="104.9" cy="825.9" r="6.4"/><circle cx="168.0" cy="827.5" r="6.4"/><circle cx="228.7" cy="827.5" r="6.4"/><circle cx="295.7" cy="827.5" r="6.4"/><circle cx="363.5" cy="827.5" r="6.4"/><circle cx="70.6" cy="848.0" r="6.4"/><circle cx="127.3" cy="848.0" r="6.4"/><circle cx="190.0" cy="850.0" r="6.4"/><circle cx="251.2" cy="850.0" r="6.4"/><circle cx="317.9" cy="850.0" r="6.4"/><circle cx="385.9" cy="850.0" r="6.4"/><circle cx="93.0" cy="870.4" r="6.4"/><circle cx="149.4" cy="870.4" r="6.4"/><circle cx="212.5" cy="872.2" r="6.4"/><circle cx="273.4" cy="872.3" r="6.4"/><circle cx="340.3" cy="872.3" r="6.4"/><circle cx="115.4" cy="892.7" r="6.4"/><circle cx="171.8" cy="892.9" r="6.4"/><circle cx="234.8" cy="894.6" r="6.4"/><circle cx="295.7" cy="894.6" r="6.4"/><circle cx="362.7" cy="894.6" r="6.4"/><circle cx="79.1" cy="915.5" r="6.4"/><circle cx="137.6" cy="915.2" r="6.4"/><circle cx="194.2" cy="915.2" r="6.4"/><circle cx="257.2" cy="917.0" r="6.4"/><circle cx="317.9" cy="917.0" r="6.4"/><circle cx="385.1" cy="917.0" r="6.4"/><circle cx="101.6" cy="937.9" r="6.4"/><circle cx="159.9" cy="937.5" r="6.4"/><circle cx="217.1" cy="937.6" r="6.4"/><circle cx="279.7" cy="939.3" r="6.4"/><circle cx="340.3" cy="939.3" r="6.4"/><circle cx="66.0" cy="962.1" r="6.4"/><circle cx="123.6" cy="960.1" r="6.4"/><circle cx="182.3" cy="959.9" r="6.4"/><circle cx="238.8" cy="959.9" r="6.4"/><circle cx="301.8" cy="961.7" r="6.4"/><circle cx="362.7" cy="961.7" r="6.4"/></g><polygon points="417.7,1020.5 423.7,1039.9 443.2,1039.9 427.4,1051.9 433.5,1071.3 417.7,1059.3 401.9,1071.3 408.0,1051.9 392.2,1039.9 411.7,1039.9" fill="#8fb4e6"/><text x="847.6" y="724.8" font-size="33.8" fill="#139bee" text-anchor="middle">Phase B</text><text x="977.4" y="1098.9" font-size="33.65" fill="#242424" text-anchor="middle">ground state</text><g fill="#2a6fba"><circle cx="645.9" cy="762.0" r="6.4"/><circle cx="706.9" cy="762.0" r="6.4"/><circle cx="773.7" cy="762.0" r="6.4"/><circle cx="841.6" cy="762.0" r="6.4"/><circle cx="904.1" cy="762.0" r="6.4"/><circle cx="605.3" cy="782.4" r="6.4"/><circle cx="668.0" cy="784.3" r="6.4"/><circle cx="729.1" cy="784.3" r="6.4"/><circle cx="795.9" cy="784.3" r="6.4"/><circle cx="864.0" cy="784.3" r="6.4"/><circle cx="926.4" cy="784.3" r="6.4"/><circle cx="627.4" cy="804.6" r="6.4"/><circle cx="690.4" cy="806.4" r="6.4"/><circle cx="751.4" cy="806.4" r="6.4"/><circle cx="818.2" cy="806.4" r="6.4"/><circle cx="886.4" cy="806.4" r="6.4"/><circle cx="649.8" cy="827.2" r="6.4"/><circle cx="712.9" cy="828.8" r="6.4"/><circle cx="773.6" cy="828.8" r="6.4"/><circle cx="840.6" cy="828.8" r="6.4"/><circle cx="908.4" cy="828.8" r="6.4"/><circle cx="615.5" cy="849.3" r="6.4"/><circle cx="672.2" cy="849.3" r="6.4"/><circle cx="734.9" cy="851.3" r="6.4"/><circle cx="796.1" cy="851.3" r="6.4"/><circle cx="862.8" cy="851.3" r="6.4"/><circle cx="930.8" cy="851.3" r="6.4"/><circle cx="637.9" cy="871.7" r="6.4"/><circle cx="694.3" cy="871.7" r="6.4"/><circle cx="757.4" cy="873.5" r="6.4"/><circle cx="818.3" cy="873.6" r="6.4"/><circle cx="885.2" cy="873.6" r="6.4"/><circle cx="660.3" cy="894.0" r="6.4"/><circle cx="716.7" cy="894.2" r="6.4"/><circle cx="779.7" cy="895.9" r="6.4"/><circle cx="840.6" cy="895.9" r="6.4"/><circle cx="907.6" cy="895.9" r="6.4"/><circle cx="624.0" cy="916.8" r="6.4"/><circle cx="682.5" cy="916.5" r="6.4"/><circle cx="739.1" cy="916.5" r="6.4"/><circle cx="802.1" cy="918.3" r="6.4"/><circle cx="862.8" cy="918.3" r="6.4"/><circle cx="930.0" cy="918.3" r="6.4"/><circle cx="646.5" cy="939.2" r="6.4"/><circle cx="704.8" cy="938.8" r="6.4"/><circle cx="762.0" cy="938.9" r="6.4"/><circle cx="824.6" cy="940.6" r="6.4"/><circle cx="885.2" cy="940.6" r="6.4"/><circle cx="610.9" cy="963.4" r="6.4"/><circle cx="668.5" cy="961.4" r="6.4"/><circle cx="727.2" cy="961.2" r="6.4"/><circle cx="783.7" cy="961.2" r="6.4"/><circle cx="846.7" cy="963.0" r="6.4"/><circle cx="907.6" cy="963.0" r="6.4"/></g><g fill="#f17a28"><circle cx="746.9" cy="829.6" r="6.4"/><circle cx="807.9" cy="829.6" r="6.4"/><circle cx="874.7" cy="829.6" r="6.4"/><circle cx="942.6" cy="829.6" r="6.4"/><circle cx="1005.1" cy="829.6" r="6.4"/><circle cx="706.3" cy="850.0" r="6.4"/><circle cx="769.0" cy="851.9" r="6.4"/><circle cx="830.1" cy="851.9" r="6.4"/><circle cx="896.9" cy="851.9" r="6.4"/><circle cx="965.0" cy="851.9" r="6.4"/><circle cx="1027.4" cy="851.9" r="6.4"/><circle cx="728.4" cy="872.2" r="6.4"/><circle cx="791.4" cy="874.0" r="6.4"/><circle cx="852.4" cy="874.0" r="6.4"/><circle cx="919.2" cy="874.0" r="6.4"/><circle cx="987.4" cy="874.0" r="6.4"/><circle cx="750.8" cy="894.8" r="6.4"/><circle cx="813.9" cy="896.4" r="6.4"/><circle cx="874.6" cy="896.4" r="6.4"/><circle cx="941.6" cy="896.4" r="6.4"/><circle cx="1009.4" cy="896.4" r="6.4"/><circle cx="716.5" cy="916.9" r="6.4"/><circle cx="773.2" cy="916.9" r="6.4"/><circle cx="835.9" cy="918.9" r="6.4"/><circle cx="897.1" cy="918.9" r="6.4"/><circle cx="963.8" cy="918.9" r="6.4"/><circle cx="1031.8" cy="918.9" r="6.4"/><circle cx="738.9" cy="939.3" r="6.4"/><circle cx="795.3" cy="939.3" r="6.4"/><circle cx="858.4" cy="941.1" r="6.4"/><circle cx="919.3" cy="941.2" r="6.4"/><circle cx="986.2" cy="941.2" r="6.4"/><circle cx="761.3" cy="961.6" r="6.4"/><circle cx="817.7" cy="961.8" r="6.4"/><circle cx="880.7" cy="963.5" r="6.4"/><circle cx="941.6" cy="963.5" r="6.4"/><circle cx="1008.6" cy="963.5" r="6.4"/><circle cx="725.0" cy="984.4" r="6.4"/><circle cx="783.5" cy="984.1" r="6.4"/><circle cx="840.1" cy="984.1" r="6.4"/><circle cx="903.1" cy="985.9" r="6.4"/><circle cx="963.8" cy="985.9" r="6.4"/><circle cx="1031.0" cy="985.9" r="6.4"/><circle cx="747.5" cy="1006.8" r="6.4"/><circle cx="805.8" cy="1006.4" r="6.4"/><circle cx="863.0" cy="1006.5" r="6.4"/><circle cx="925.6" cy="1008.2" r="6.4"/><circle cx="986.2" cy="1008.2" r="6.4"/><circle cx="711.9" cy="1031.0" r="6.4"/><circle cx="769.5" cy="1029.0" r="6.4"/><circle cx="828.2" cy="1028.8" r="6.4"/><circle cx="884.7" cy="1028.8" r="6.4"/><circle cx="947.7" cy="1030.6" r="6.4"/><circle cx="1008.6" cy="1030.6" r="6.4"/></g><polygon points="1006.2,1020.5 1012.2,1039.9 1031.7,1039.9 1015.9,1051.9 1022.0,1071.3 1006.2,1059.3 990.4,1071.3 996.5,1051.9 980.7,1039.9 1000.2,1039.9" fill="#8fb4e6"/><text x="1436.4" y="724.8" font-size="33.8" fill="#9d7bef" text-anchor="middle">Phase C</text><text x="1543.2" y="1098.6" font-size="33.65" fill="#242424" text-anchor="middle">ground state</text><g fill="#2a6fba"><circle cx="1225.9" cy="762.0" r="6.4"/><circle cx="1286.9" cy="762.0" r="6.4"/><circle cx="1353.7" cy="762.0" r="6.4"/><circle cx="1421.6" cy="762.0" r="6.4"/><circle cx="1484.1" cy="762.0" r="6.4"/><circle cx="1185.3" cy="782.4" r="6.4"/><circle cx="1248.0" cy="784.3" r="6.4"/><circle cx="1309.1" cy="784.3" r="6.4"/><circle cx="1375.9" cy="784.3" r="6.4"/><circle cx="1444.0" cy="784.3" r="6.4"/><circle cx="1506.4" cy="784.3" r="6.4"/><circle cx="1207.4" cy="804.6" r="6.4"/><circle cx="1270.4" cy="806.4" r="6.4"/><circle cx="1331.4" cy="806.4" r="6.4"/><circle cx="1398.2" cy="806.4" r="6.4"/><circle cx="1466.4" cy="806.4" r="6.4"/><circle cx="1229.8" cy="827.2" r="6.4"/><circle cx="1292.9" cy="828.8" r="6.4"/><circle cx="1353.6" cy="828.8" r="6.4"/><circle cx="1420.6" cy="828.8" r="6.4"/><circle cx="1488.4" cy="828.8" r="6.4"/><circle cx="1195.5" cy="849.3" r="6.4"/><circle cx="1252.2" cy="849.3" r="6.4"/><circle cx="1314.9" cy="851.3" r="6.4"/><circle cx="1376.1" cy="851.3" r="6.4"/><circle cx="1442.8" cy="851.3" r="6.4"/><circle cx="1510.8" cy="851.3" r="6.4"/><circle cx="1217.9" cy="871.7" r="6.4"/><circle cx="1274.3" cy="871.7" r="6.4"/><circle cx="1337.4" cy="873.5" r="6.4"/><circle cx="1398.3" cy="873.6" r="6.4"/><circle cx="1465.2" cy="873.6" r="6.4"/><circle cx="1240.3" cy="894.0" r="6.4"/><circle cx="1296.7" cy="894.2" r="6.4"/><circle cx="1359.7" cy="895.9" r="6.4"/><circle cx="1420.6" cy="895.9" r="6.4"/><circle cx="1487.6" cy="895.9" r="6.4"/><circle cx="1204.0" cy="916.8" r="6.4"/><circle cx="1262.5" cy="916.5" r="6.4"/><circle cx="1319.1" cy="916.5" r="6.4"/><circle cx="1382.1" cy="918.3" r="6.4"/><circle cx="1442.8" cy="918.3" r="6.4"/><circle cx="1510.0" cy="918.3" r="6.4"/><circle cx="1226.5" cy="939.2" r="6.4"/><circle cx="1284.8" cy="938.8" r="6.4"/><circle cx="1342.0" cy="938.9" r="6.4"/><circle cx="1404.6" cy="940.6" r="6.4"/><circle cx="1465.2" cy="940.6" r="6.4"/><circle cx="1190.9" cy="963.4" r="6.4"/><circle cx="1248.5" cy="961.4" r="6.4"/><circle cx="1307.2" cy="961.2" r="6.4"/><circle cx="1363.7" cy="961.2" r="6.4"/><circle cx="1426.7" cy="963.0" r="6.4"/><circle cx="1487.6" cy="963.0" r="6.4"/></g><g fill="#f17a28"><circle cx="1380.3" cy="898.9" r="6.4"/><circle cx="1441.3" cy="898.9" r="6.4"/><circle cx="1508.1" cy="898.9" r="6.4"/><circle cx="1576.0" cy="898.9" r="6.4"/><circle cx="1638.5" cy="898.9" r="6.4"/><circle cx="1339.7" cy="919.3" r="6.4"/><circle cx="1402.4" cy="921.2" r="6.4"/><circle cx="1463.5" cy="921.2" r="6.4"/><circle cx="1530.3" cy="921.2" r="6.4"/><circle cx="1598.4" cy="921.2" r="6.4"/><circle cx="1660.8" cy="921.2" r="6.4"/><circle cx="1361.8" cy="941.5" r="6.4"/><circle cx="1424.8" cy="943.3" r="6.4"/><circle cx="1485.8" cy="943.3" r="6.4"/><circle cx="1552.6" cy="943.3" r="6.4"/><circle cx="1620.8" cy="943.3" r="6.4"/><circle cx="1384.2" cy="964.1" r="6.4"/><circle cx="1447.3" cy="965.7" r="6.4"/><circle cx="1508.0" cy="965.7" r="6.4"/><circle cx="1575.0" cy="965.7" r="6.4"/><circle cx="1642.8" cy="965.7" r="6.4"/><circle cx="1349.9" cy="986.2" r="6.4"/><circle cx="1406.6" cy="986.2" r="6.4"/><circle cx="1469.3" cy="988.2" r="6.4"/><circle cx="1530.5" cy="988.2" r="6.4"/><circle cx="1597.2" cy="988.2" r="6.4"/><circle cx="1665.2" cy="988.2" r="6.4"/><circle cx="1372.3" cy="1008.6" r="6.4"/><circle cx="1428.7" cy="1008.6" r="6.4"/><circle cx="1491.8" cy="1010.4" r="6.4"/><circle cx="1552.7" cy="1010.5" r="6.4"/><circle cx="1619.6" cy="1010.5" r="6.4"/><circle cx="1394.7" cy="1030.9" r="6.4"/><circle cx="1451.1" cy="1031.1" r="6.4"/><circle cx="1514.1" cy="1032.8" r="6.4"/><circle cx="1575.0" cy="1032.8" r="6.4"/><circle cx="1642.0" cy="1032.8" r="6.4"/><circle cx="1358.4" cy="1053.7" r="6.4"/><circle cx="1416.9" cy="1053.4" r="6.4"/><circle cx="1473.5" cy="1053.4" r="6.4"/><circle cx="1536.5" cy="1055.2" r="6.4"/><circle cx="1597.2" cy="1055.2" r="6.4"/><circle cx="1664.4" cy="1055.2" r="6.4"/><circle cx="1380.9" cy="1076.1" r="6.4"/><circle cx="1439.2" cy="1075.7" r="6.4"/><circle cx="1496.4" cy="1075.8" r="6.4"/><circle cx="1559.0" cy="1077.5" r="6.4"/><circle cx="1619.6" cy="1077.5" r="6.4"/><circle cx="1345.3" cy="1100.3" r="6.4"/><circle cx="1402.9" cy="1098.3" r="6.4"/><circle cx="1461.6" cy="1098.1" r="6.4"/><circle cx="1518.1" cy="1098.1" r="6.4"/><circle cx="1581.1" cy="1099.9" r="6.4"/><circle cx="1642.0" cy="1099.9" r="6.4"/></g><polygon points="1569.6,1020.5 1575.6,1039.9 1595.1,1039.9 1579.3,1051.9 1585.4,1071.3 1569.6,1059.3 1553.8,1071.3 1559.9,1051.9 1544.1,1039.9 1563.6,1039.9" fill="#8fb4e6"/></svg>
</body></html>
